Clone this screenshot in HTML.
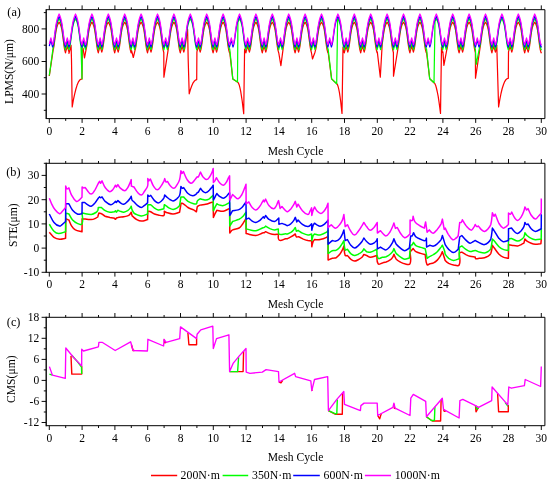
<!DOCTYPE html>
<html><head><meta charset="utf-8"><title>Mesh stiffness, STE and CMS over mesh cycles</title>
<style>
html,body{margin:0;padding:0;background:#fff;}
body{width:550px;height:483px;overflow:hidden;}
svg{display:block;font-family:"Liberation Serif","Times New Roman",serif;}
.t{font-size:11.5px;fill:#000;}
.xl{font-size:11.6px;fill:#000;}
.yl{font-size:11.6px;fill:#000;}
.pl{font-size:12.3px;fill:#000;}
.lg{font-size:11.8px;fill:#000;}
</style></head><body>
<svg width="550" height="483" viewBox="0 0 550 483">
<rect width="550" height="483" fill="#fff"/>
<g id="panel-a">
<clipPath id="ca"><rect x="46.2" y="9.7" width="498.7" height="108.9"/></clipPath><g clip-path="url(#ca)">
<polyline points="49.3,76.0 53.3,49.1 53.4,49.1 54.0,45.8 54.8,39.7 55.5,34.4 56.3,29.6 57.0,26.7 57.8,24.4 58.5,23.1 59.1,22.2 59.8,23.2 60.4,24.5 61.2,26.8 61.9,29.8 62.6,34.7 63.3,40.1 64.1,46.3 64.7,49.8 65.5,52.8 65.7,51.9 67.3,46.2 69.0,52.2 69.0,53.4 71.1,45.4 71.5,60.0 72.2,107.0 72.2,107.0 73.4,99.9 74.7,93.9 75.9,89.0 77.1,85.1 78.3,82.2 79.5,80.3 80.8,79.3 82.0,79.0 82.2,51.9 82.1,51.9 83.1,48.3 83.1,48.3 84.5,57.8 86.5,47.4 86.5,47.4 86.8,45.8 87.6,39.7 88.3,34.4 89.1,29.6 89.8,26.7 90.6,24.4 91.3,23.1 91.9,22.2 92.6,23.2 93.2,24.5 94.0,26.8 94.7,29.8 95.4,34.7 96.1,40.1 96.9,46.3 97.5,49.8 98.3,52.8 98.5,51.9 100.1,46.2 101.8,52.2 102.6,49.2 103.2,45.8 104.0,39.7 104.7,34.4 105.5,29.6 106.2,26.7 107.0,24.4 107.7,23.1 108.3,22.2 109.0,23.2 109.6,24.5 110.4,26.8 111.1,29.8 111.8,34.7 112.5,40.1 113.3,46.3 113.9,49.8 114.7,52.8 114.9,51.9 116.5,46.2 118.2,52.2 119.0,49.2 119.6,45.8 120.4,39.7 121.1,34.4 121.9,29.6 122.6,26.7 123.4,24.4 124.1,23.1 124.7,22.2 125.4,23.2 126.0,24.5 126.8,26.8 127.5,29.8 128.2,34.7 128.9,40.1 129.7,46.3 130.3,49.8 131.1,52.8 131.3,51.9 131.6,50.7 131.6,50.7 133.3,57.5 135.2,49.7 135.2,49.7 135.4,49.2 136.0,45.8 136.8,39.7 137.5,34.4 138.3,29.6 139.0,26.7 139.8,24.4 140.5,23.1 141.1,22.2 141.8,23.2 142.4,24.5 143.2,26.8 143.9,29.8 144.6,34.7 145.3,40.1 146.1,46.3 146.7,49.8 147.5,52.8 147.7,51.9 149.3,46.2 151.0,52.2 151.8,49.2 152.4,45.8 153.2,39.7 153.9,34.4 154.7,29.6 155.4,26.7 156.2,24.4 156.9,23.1 157.5,22.2 158.2,23.2 158.8,24.5 159.6,26.8 160.3,29.8 161.0,34.7 161.7,40.1 162.5,46.3 163.1,49.8 163.8,52.5 163.8,52.5 163.9,77.2 168.4,48.2 168.4,48.2 168.8,45.8 169.6,39.7 170.3,34.4 171.1,29.6 171.8,26.7 172.6,24.4 173.3,23.1 173.9,22.2 174.6,23.2 175.2,24.5 176.0,26.8 176.7,29.8 177.4,34.7 178.1,40.1 178.9,46.3 179.5,49.8 180.3,52.8 180.5,51.9 182.1,46.2 183.8,52.2 184.6,49.2 185.2,45.8 186.0,39.7 186.7,34.4 187.5,29.6 187.6,29.5 187.6,29.5 188.2,60.0 189.2,93.8 189.2,93.8 190.4,89.5 191.7,86.0 192.9,83.2 194.2,81.3 195.4,80.1 196.7,79.7 196.9,51.9 196.9,51.9 198.5,46.2 200.2,52.2 201.0,49.2 201.6,45.8 202.4,39.7 203.1,34.4 203.9,29.6 204.6,26.7 205.4,24.4 206.1,23.1 206.7,22.2 207.4,23.2 208.0,24.5 208.8,26.8 209.5,29.8 210.2,34.7 210.9,40.1 211.7,46.3 212.3,49.8 213.1,52.8 213.3,51.9 214.9,46.2 216.6,52.2 217.4,49.2 218.0,45.8 218.8,39.7 219.5,34.4 220.3,29.6 221.0,26.7 221.8,24.4 222.5,23.1 223.1,22.2 223.8,23.2 224.4,24.5 225.2,26.8 225.9,29.8 226.6,34.7 227.3,40.1 228.1,46.3 228.7,49.8 229.5,52.8 229.7,51.9 229.7,51.9 232.8,78.9 237.7,82.3 237.7,82.3 238.4,83.0 239.2,84.9 239.9,87.7 240.7,91.3 241.4,95.8 242.2,101.0 242.9,107.0 243.7,113.7 244.6,49.0 245.0,49.0 245.1,49.8 245.9,52.8 246.1,51.9 247.7,46.2 249.4,52.2 250.2,49.2 250.8,45.8 251.6,39.7 252.3,34.4 253.1,29.6 253.8,26.7 254.6,24.4 255.3,23.1 255.9,22.2 256.6,23.2 257.2,24.5 258.0,26.8 258.7,29.8 259.4,34.7 260.1,40.1 260.9,46.3 261.5,49.8 262.3,52.8 262.5,51.9 264.1,46.2 265.8,52.2 266.6,49.2 267.2,45.8 268.0,39.7 268.7,34.4 269.5,29.6 270.2,26.7 271.0,24.4 271.7,23.1 272.3,22.2 273.0,23.2 273.6,24.5 274.4,26.8 275.1,29.8 275.8,34.7 276.5,40.1 277.3,46.3 277.9,49.8 278.7,52.8 278.7,52.5 278.7,52.5 280.9,65.6 283.2,48.2 283.2,48.2 283.6,45.8 284.4,39.7 285.1,34.4 285.9,29.6 286.6,26.7 287.4,24.4 288.1,23.1 288.7,22.2 289.4,23.2 290.0,24.5 290.8,26.8 291.5,29.8 292.2,34.7 292.9,40.1 293.7,46.3 294.3,49.8 295.1,52.8 295.3,51.9 296.9,46.2 298.6,52.2 299.4,49.2 300.0,45.8 300.8,39.7 301.5,34.4 302.3,29.6 303.0,26.7 303.8,24.4 304.5,23.1 305.1,22.2 305.8,23.2 306.4,24.5 307.2,26.8 307.9,29.8 308.6,34.7 309.3,40.1 310.1,46.3 310.7,49.8 311.4,52.5 311.4,52.5 312.5,59.0 315.0,52.2 315.0,52.2 315.8,49.2 316.4,45.8 317.2,39.7 317.9,34.4 318.7,29.6 319.4,26.7 320.2,24.4 320.9,23.1 321.5,22.2 322.2,23.2 322.8,24.5 323.6,26.8 324.3,29.8 325.0,34.7 325.7,40.1 326.5,46.3 327.1,49.8 327.9,52.8 328.1,51.9 328.1,51.9 331.6,78.9 336.7,83.8 336.7,83.8 337.4,84.5 338.0,86.2 338.7,88.9 339.4,92.3 340.0,96.5 340.7,101.5 341.3,107.2 342.0,113.5 343.0,47.1 343.0,47.1 343.5,49.8 344.3,52.8 344.5,51.9 346.1,46.2 347.8,52.2 348.6,49.2 349.2,45.8 350.0,39.7 350.7,34.4 351.5,29.6 352.2,26.7 353.0,24.4 353.7,23.1 354.3,22.2 355.0,23.2 355.6,24.5 356.4,26.8 357.1,29.8 357.8,34.7 358.5,40.1 359.3,46.3 359.9,49.8 360.7,52.8 360.9,51.9 362.5,46.2 364.2,52.2 365.0,49.2 365.6,45.8 366.4,39.7 367.1,34.4 367.9,29.6 368.6,26.7 369.4,24.4 370.1,23.1 370.7,22.2 371.4,23.2 372.0,24.5 372.8,26.8 373.5,29.8 374.2,34.7 374.9,40.1 375.7,46.3 376.3,49.8 377.1,52.8 377.3,51.9 377.3,51.9 380.3,77.2 382.2,44.3 382.2,44.3 382.8,39.7 383.5,34.4 384.3,29.6 385.0,26.7 385.8,24.4 386.5,23.1 387.1,22.2 387.8,23.2 388.4,24.5 389.2,26.8 389.9,29.8 390.6,34.7 391.3,40.1 392.1,46.3 392.7,49.8 393.4,52.5 393.4,52.5 393.5,76.2 398.3,46.5 398.3,46.5 398.4,45.8 399.2,39.7 399.9,34.4 400.7,29.6 401.4,26.7 402.2,24.4 402.9,23.1 403.5,22.2 404.2,23.2 404.8,24.5 405.6,26.8 406.3,29.8 407.0,34.7 407.7,40.1 408.5,46.3 409.1,49.8 409.9,52.8 410.1,51.9 411.7,46.2 413.4,52.2 414.2,49.2 414.8,45.8 415.6,39.7 416.3,34.4 417.1,29.6 417.8,26.7 418.6,24.4 419.3,23.1 419.9,22.2 420.6,23.2 421.2,24.5 422.0,26.8 422.7,29.8 423.4,34.7 424.1,40.1 424.9,46.3 425.5,49.8 426.3,52.8 426.5,51.9 426.5,51.9 429.7,78.7 434.0,82.7 434.0,82.7 434.8,83.4 435.6,85.2 436.4,88.0 437.2,91.5 438.1,95.9 438.9,101.1 439.7,106.9 440.5,113.5 441.5,47.1 441.4,47.1 441.9,49.8 442.7,52.8 442.9,51.9 442.9,51.9 443.9,65.4 446.8,49.7 446.8,49.7 447.0,49.2 447.6,45.8 448.4,39.7 449.1,34.4 449.9,29.6 450.6,26.7 451.4,24.4 452.1,23.1 452.7,22.2 453.4,23.2 454.0,24.5 454.8,26.8 455.5,29.8 456.2,34.7 456.9,40.1 457.7,46.3 458.3,49.8 459.1,52.8 459.3,51.9 460.9,46.2 462.6,52.2 463.4,49.2 464.0,45.8 464.8,39.7 465.5,34.4 466.3,29.6 467.0,26.7 467.8,24.4 468.5,23.1 469.1,22.2 469.8,23.2 470.4,24.5 471.2,26.8 471.9,29.8 472.6,34.7 473.3,40.1 474.1,46.3 474.7,49.8 475.4,52.5 475.4,52.5 475.5,78.2 480.0,48.2 480.0,48.2 480.4,45.8 481.2,39.7 481.9,34.4 482.7,29.6 483.4,26.7 484.2,24.4 484.9,23.1 485.5,22.2 486.2,23.2 486.8,24.5 487.6,26.8 488.3,29.8 489.0,34.7 489.7,40.1 490.5,46.3 491.1,49.8 491.9,52.8 492.1,51.9 493.7,46.2 495.4,52.2 496.2,49.2 496.8,45.8 496.9,45.6 496.8,45.6 497.2,60.0 498.6,106.9 498.6,106.9 499.8,99.6 501.0,93.5 502.2,88.5 503.5,84.5 504.7,81.6 505.9,79.7 507.1,78.6 508.3,78.3 508.5,51.9 508.5,51.9 510.1,46.2 511.8,52.2 512.6,49.2 513.2,45.8 514.0,39.7 514.7,34.4 515.5,29.6 516.2,26.7 517.0,24.4 517.7,23.1 518.3,22.2 519.0,23.2 519.6,24.5 520.4,26.8 521.1,29.8 521.8,34.7 522.5,40.1 523.3,46.3 523.9,49.8 524.7,52.8 524.9,51.9 526.5,46.2 528.2,52.2 529.0,49.2 529.6,45.8 530.4,39.7 531.1,34.4 531.9,29.6 532.6,26.7 533.4,24.4 534.1,23.1 534.7,22.2 535.4,23.2 536.0,24.5 536.8,26.8 537.5,29.8 538.2,34.7 538.9,40.1 539.7,46.3 540.3,49.8 541.1,52.8 541.3,51.9" fill="none" stroke="#ff0000" stroke-width="1.22" stroke-linejoin="round" />
<polyline points="49.3,75.5 53.2,47.2 53.2,47.2 53.4,46.8 54.0,43.4 54.8,37.4 55.5,32.0 56.3,27.1 57.0,24.0 57.8,21.5 58.5,20.0 59.1,18.8 59.8,20.0 60.4,21.5 61.2,24.0 61.9,27.1 62.6,32.1 63.3,37.5 64.1,43.6 64.7,47.0 65.5,49.8 65.7,48.9 67.3,43.0 69.0,49.6 69.8,46.8 70.4,43.4 71.2,37.4 71.9,32.0 72.7,27.1 73.4,24.0 74.2,21.5 74.9,20.0 75.5,18.8 76.2,20.0 76.8,21.5 77.6,24.0 78.3,27.1 79.0,32.1 79.7,37.5 80.5,43.6 81.0,46.2 81.0,46.2 82.0,78.9 82.2,48.9 82.1,48.9 83.7,43.0 85.4,49.6 86.2,46.8 86.8,43.4 87.6,37.4 88.3,32.0 89.1,27.1 89.8,24.0 90.6,21.5 91.3,20.0 91.9,18.8 92.6,20.0 93.2,21.5 94.0,24.0 94.7,27.1 95.4,32.1 96.1,37.5 96.9,43.6 97.5,47.0 98.3,49.8 98.5,48.9 100.1,43.0 101.8,49.6 102.6,46.8 103.2,43.4 104.0,37.4 104.7,32.0 105.5,27.1 106.2,24.0 107.0,21.5 107.7,20.0 108.3,18.8 109.0,20.0 109.6,21.5 110.4,24.0 111.1,27.1 111.8,32.1 112.5,37.5 113.3,43.6 113.9,47.0 114.7,49.8 114.9,48.9 116.5,43.0 118.2,49.6 119.0,46.8 119.6,43.4 120.4,37.4 121.1,32.0 121.9,27.1 122.6,24.0 123.4,21.5 124.1,20.0 124.7,18.8 125.4,20.0 126.0,21.5 126.8,24.0 127.5,27.1 128.2,32.1 128.9,37.5 129.7,43.6 130.3,47.0 131.1,49.8 131.3,48.9 132.9,43.0 134.6,49.6 135.4,46.8 136.0,43.4 136.8,37.4 137.5,32.0 138.3,27.1 139.0,24.0 139.8,21.5 140.5,20.0 141.1,18.8 141.8,20.0 142.4,21.5 143.2,24.0 143.9,27.1 144.6,32.1 145.3,37.5 146.1,43.6 146.7,47.0 147.5,49.8 147.7,48.9 149.3,43.0 151.0,49.6 151.8,46.8 152.4,43.4 153.2,37.4 153.9,32.0 154.7,27.1 155.4,24.0 156.2,21.5 156.9,20.0 157.5,18.8 158.2,20.0 158.8,21.5 159.6,24.0 160.3,27.1 161.0,32.1 161.7,37.5 162.5,43.6 163.1,47.0 163.9,49.8 164.1,48.9 165.7,43.0 167.4,49.6 168.2,46.8 168.8,43.4 169.6,37.4 170.3,32.0 171.1,27.1 171.8,24.0 172.6,21.5 173.3,20.0 173.9,18.8 174.6,20.0 175.2,21.5 176.0,24.0 176.7,27.1 177.4,32.1 178.1,37.5 178.9,43.6 179.5,47.0 180.3,49.8 180.5,48.9 182.1,43.0 183.8,49.6 184.6,46.8 185.2,43.4 186.0,37.4 186.7,32.0 187.5,27.1 188.2,24.0 189.0,21.5 189.7,20.0 190.3,18.8 191.0,20.0 191.6,21.5 192.4,24.0 193.1,27.1 193.8,32.1 194.5,37.5 195.3,43.6 195.9,47.0 196.7,49.8 196.9,48.9 198.5,43.0 200.2,49.6 201.0,46.8 201.6,43.4 202.4,37.4 203.1,32.0 203.9,27.1 204.6,24.0 205.4,21.5 206.1,20.0 206.7,18.8 207.4,20.0 208.0,21.5 208.8,24.0 209.5,27.1 210.2,32.1 210.9,37.5 211.7,43.6 212.3,47.0 213.1,49.8 213.3,48.9 214.9,43.0 216.6,49.6 217.4,46.8 218.0,43.4 218.8,37.4 219.5,32.0 220.3,27.1 221.0,24.0 221.8,21.5 222.5,20.0 223.1,18.8 223.8,20.0 224.4,21.5 225.2,24.0 225.9,27.1 226.6,32.1 227.3,37.5 228.1,43.6 228.7,47.0 229.5,49.8 229.7,48.9 229.7,48.9 232.8,78.9 237.5,82.0 237.9,22.5 237.9,22.5 238.2,21.5 238.9,20.0 239.5,18.8 240.2,20.0 240.8,21.5 241.6,24.0 242.3,27.1 243.0,32.1 243.7,37.5 244.5,43.6 245.1,47.0 245.9,49.8 246.1,48.9 247.7,43.0 249.4,49.6 250.2,46.8 250.8,43.4 251.6,37.4 252.3,32.0 253.1,27.1 253.8,24.0 254.6,21.5 255.3,20.0 255.9,18.8 256.6,20.0 257.2,21.5 258.0,24.0 258.7,27.1 259.4,32.1 260.1,37.5 260.9,43.6 261.5,47.0 262.3,49.8 262.5,48.9 264.1,43.0 265.8,49.6 266.6,46.8 267.2,43.4 268.0,37.4 268.7,32.0 269.5,27.1 270.2,24.0 271.0,21.5 271.7,20.0 272.3,18.8 273.0,20.0 273.6,21.5 274.4,24.0 275.1,27.1 275.8,32.1 276.5,37.5 277.3,43.6 277.9,47.0 278.7,49.8 278.9,48.9 280.5,43.0 282.2,49.6 283.0,46.8 283.6,43.4 284.4,37.4 285.1,32.0 285.9,27.1 286.6,24.0 287.4,21.5 288.1,20.0 288.7,18.8 289.4,20.0 290.0,21.5 290.8,24.0 291.5,27.1 292.2,32.1 292.9,37.5 293.7,43.6 294.3,47.0 295.1,49.8 295.3,48.9 296.9,43.0 298.6,49.6 299.4,46.8 300.0,43.4 300.8,37.4 301.5,32.0 302.3,27.1 303.0,24.0 303.8,21.5 304.5,20.0 305.1,18.8 305.8,20.0 306.4,21.5 307.2,24.0 307.9,27.1 308.6,32.1 309.3,37.5 310.1,43.6 310.7,47.0 311.5,49.8 311.7,48.9 313.3,43.0 315.0,49.6 315.8,46.8 316.4,43.4 317.2,37.4 317.9,32.0 318.7,27.1 319.4,24.0 320.2,21.5 320.9,20.0 321.5,18.8 322.2,20.0 322.8,21.5 323.6,24.0 324.3,27.1 325.0,32.1 325.7,37.5 326.5,43.6 327.1,47.0 327.9,49.8 328.1,48.9 328.1,48.9 331.6,78.9 336.7,83.8 337.6,19.4 337.6,19.4 337.9,18.8 338.6,20.0 339.2,21.5 340.0,24.0 340.7,27.1 341.4,32.1 342.1,37.5 342.9,43.6 343.5,47.0 344.3,49.8 344.5,48.9 346.1,43.0 347.8,49.6 348.6,46.8 349.2,43.4 350.0,37.4 350.7,32.0 351.5,27.1 352.2,24.0 353.0,21.5 353.7,20.0 354.3,18.8 355.0,20.0 355.6,21.5 356.4,24.0 357.1,27.1 357.8,32.1 358.5,37.5 359.3,43.6 359.9,47.0 360.7,49.8 360.9,48.9 362.5,43.0 364.2,49.6 365.0,46.8 365.6,43.4 366.4,37.4 367.1,32.0 367.9,27.1 368.6,24.0 369.4,21.5 370.1,20.0 370.7,18.8 371.4,20.0 372.0,21.5 372.8,24.0 373.5,27.1 374.2,32.1 374.9,37.5 375.7,43.6 376.3,47.0 377.1,49.8 377.3,48.9 378.9,43.0 380.6,49.6 381.4,46.8 382.0,43.4 382.8,37.4 383.5,32.0 384.3,27.1 385.0,24.0 385.8,21.5 386.5,20.0 387.1,18.8 387.8,20.0 388.4,21.5 389.2,24.0 389.9,27.1 390.6,32.1 391.3,37.5 392.1,43.6 392.7,47.0 393.5,49.8 393.7,48.9 395.3,43.0 397.0,49.6 397.8,46.8 398.4,43.4 399.2,37.4 399.9,32.0 400.7,27.1 401.4,24.0 402.2,21.5 402.9,20.0 403.5,18.8 404.2,20.0 404.8,21.5 405.6,24.0 406.3,27.1 407.0,32.1 407.7,37.5 408.5,43.6 409.1,47.0 409.9,49.8 410.1,48.9 411.7,43.0 413.4,49.6 414.2,46.8 414.8,43.4 415.6,37.4 416.3,32.0 417.1,27.1 417.8,24.0 418.6,21.5 419.3,20.0 419.9,18.8 420.6,20.0 421.2,21.5 422.0,24.0 422.7,27.1 423.4,32.1 424.1,37.5 424.9,43.6 425.5,47.0 426.3,49.8 426.5,48.9 426.5,48.9 429.7,78.7 434.0,82.7 435.0,21.5 435.0,21.5 435.7,20.0 436.3,18.8 437.0,20.0 437.6,21.5 438.4,24.0 439.1,27.1 439.8,32.1 440.5,37.5 441.3,43.6 441.9,47.0 442.7,49.8 442.9,48.9 444.5,43.0 446.2,49.6 447.0,46.8 447.6,43.4 448.4,37.4 449.1,32.0 449.9,27.1 450.6,24.0 451.4,21.5 452.1,20.0 452.7,18.8 453.4,20.0 454.0,21.5 454.8,24.0 455.5,27.1 456.2,32.1 456.9,37.5 457.7,43.6 458.3,47.0 459.1,49.8 459.3,48.9 460.9,43.0 462.6,49.6 463.4,46.8 464.0,43.4 464.8,37.4 465.5,32.0 466.3,27.1 467.0,24.0 467.8,21.5 468.5,20.0 469.1,18.8 469.8,20.0 470.4,21.5 471.2,24.0 471.9,27.1 472.6,32.1 473.3,37.5 474.1,43.6 474.7,47.0 475.4,49.5 475.4,49.5 476.2,64.4 479.6,47.2 479.6,47.2 479.8,46.8 480.4,43.4 481.2,37.4 481.9,32.0 482.7,27.1 483.4,24.0 484.2,21.5 484.9,20.0 485.5,18.8 486.2,20.0 486.8,21.5 487.6,24.0 488.3,27.1 489.0,32.1 489.7,37.5 490.5,43.6 491.1,47.0 491.9,49.8 492.1,48.9 493.7,43.0 495.4,49.6 496.2,46.8 496.8,43.4 497.6,37.4 498.3,32.0 499.1,27.1 499.8,24.0 500.6,21.5 501.3,20.0 501.9,18.8 502.6,20.0 503.2,21.5 504.0,24.0 504.7,27.1 505.4,32.1 506.1,37.5 506.9,43.6 507.5,47.0 508.3,49.8 508.5,48.9 510.1,43.0 511.8,49.6 512.6,46.8 513.2,43.4 514.0,37.4 514.7,32.0 515.5,27.1 516.2,24.0 517.0,21.5 517.7,20.0 518.3,18.8 519.0,20.0 519.6,21.5 520.4,24.0 521.1,27.1 521.8,32.1 522.5,37.5 523.3,43.6 523.9,47.0 524.7,49.8 524.9,48.9 526.5,43.0 528.2,49.6 529.0,46.8 529.6,43.4 530.4,37.4 531.1,32.0 531.9,27.1 532.6,24.0 533.4,21.5 534.1,20.0 534.7,18.8 535.4,20.0 536.0,21.5 536.8,24.0 537.5,27.1 538.2,32.1 538.9,37.5 539.7,43.6 540.3,47.0 541.1,49.8 541.3,48.9" fill="none" stroke="#00ff00" stroke-width="1.22" stroke-linejoin="round" />
<polyline points="49.3,46.1 50.9,40.0 52.6,47.0 53.4,44.4 54.0,41.2 54.8,35.3 55.5,30.1 56.3,25.2 57.0,22.1 57.8,19.5 58.5,17.9 59.1,16.6 59.8,17.9 60.4,19.5 61.2,22.1 61.9,25.3 62.6,30.1 63.3,35.4 64.1,41.3 64.7,44.5 65.5,47.1 65.7,46.1 67.3,40.0 69.0,47.0 69.8,44.4 70.4,41.2 71.2,35.3 71.9,30.1 72.7,25.2 73.4,22.1 74.2,19.5 74.9,17.9 75.5,16.6 76.2,17.9 76.8,19.5 77.6,22.1 78.3,25.3 79.0,30.1 79.7,35.4 80.5,41.3 81.1,44.5 81.9,47.1 82.1,46.1 83.7,40.0 85.4,47.0 86.2,44.4 86.8,41.2 87.6,35.3 88.3,30.1 89.1,25.2 89.8,22.1 90.6,19.5 91.3,17.9 91.9,16.6 92.6,17.9 93.2,19.5 94.0,22.1 94.7,25.3 95.4,30.1 96.1,35.4 96.9,41.3 97.5,44.5 98.3,47.1 98.5,46.1 100.1,40.0 101.8,47.0 102.6,44.4 103.2,41.2 104.0,35.3 104.7,30.1 105.5,25.2 106.2,22.1 107.0,19.5 107.7,17.9 108.3,16.6 109.0,17.9 109.6,19.5 110.4,22.1 111.1,25.3 111.8,30.1 112.5,35.4 113.3,41.3 113.9,44.5 114.7,47.1 114.9,46.1 116.5,40.0 118.2,47.0 119.0,44.4 119.6,41.2 120.4,35.3 121.1,30.1 121.9,25.2 122.6,22.1 123.4,19.5 124.1,17.9 124.7,16.6 125.4,17.9 126.0,19.5 126.8,22.1 127.5,25.3 128.2,30.1 128.9,35.4 129.7,41.3 130.3,44.5 131.1,47.1 131.3,46.1 132.9,40.0 134.6,47.0 135.4,44.4 136.0,41.2 136.8,35.3 137.5,30.1 138.3,25.2 139.0,22.1 139.8,19.5 140.5,17.9 141.1,16.6 141.8,17.9 142.4,19.5 143.2,22.1 143.9,25.3 144.6,30.1 145.3,35.4 146.1,41.3 146.7,44.5 147.5,47.1 147.7,46.1 149.3,40.0 151.0,47.0 151.8,44.4 152.4,41.2 153.2,35.3 153.9,30.1 154.7,25.2 155.4,22.1 156.2,19.5 156.9,17.9 157.5,16.6 158.2,17.9 158.8,19.5 159.6,22.1 160.3,25.3 161.0,30.1 161.7,35.4 162.5,41.3 163.1,44.5 163.9,47.1 164.1,46.1 165.7,40.0 167.4,47.0 168.2,44.4 168.8,41.2 169.6,35.3 170.3,30.1 171.1,25.2 171.8,22.1 172.6,19.5 173.3,17.9 173.9,16.6 174.6,17.9 175.2,19.5 176.0,22.1 176.7,25.3 177.4,30.1 178.1,35.4 178.9,41.3 179.5,44.5 180.3,47.1 180.5,46.1 182.1,40.0 183.8,47.0 184.6,44.4 185.2,41.2 186.0,35.3 186.7,30.1 187.5,25.2 188.2,22.1 189.0,19.5 189.7,17.9 190.3,16.6 191.0,17.9 191.6,19.5 192.4,22.1 193.1,25.3 193.8,30.1 194.5,35.4 195.3,41.3 195.9,44.5 196.7,47.1 196.9,46.1 198.5,40.0 200.2,47.0 201.0,44.4 201.6,41.2 202.4,35.3 203.1,30.1 203.9,25.2 204.6,22.1 205.4,19.5 206.1,17.9 206.7,16.6 207.4,17.9 208.0,19.5 208.8,22.1 209.5,25.3 210.2,30.1 210.9,35.4 211.7,41.3 212.3,44.5 213.1,47.1 213.3,46.1 214.9,40.0 216.6,47.0 217.4,44.4 218.0,41.2 218.8,35.3 219.5,30.1 220.3,25.2 221.0,22.1 221.8,19.5 222.5,17.9 223.1,16.6 223.8,17.9 224.4,19.5 225.2,22.1 225.9,25.3 226.6,30.1 227.3,35.4 228.1,41.3 228.7,44.5 229.5,47.1 229.7,46.1 231.3,40.0 233.0,47.0 233.8,44.4 234.4,41.2 235.2,35.3 235.9,30.1 236.7,25.2 237.4,22.1 238.2,19.5 238.9,17.9 239.5,16.6 240.2,17.9 240.8,19.5 241.6,22.1 242.3,25.3 243.0,30.1 243.7,35.4 244.5,41.3 245.1,44.5 245.9,47.1 246.1,46.1 247.7,40.0 249.4,47.0 250.2,44.4 250.8,41.2 251.6,35.3 252.3,30.1 253.1,25.2 253.8,22.1 254.6,19.5 255.3,17.9 255.9,16.6 256.6,17.9 257.2,19.5 258.0,22.1 258.7,25.3 259.4,30.1 260.1,35.4 260.9,41.3 261.5,44.5 262.3,47.1 262.5,46.1 264.1,40.0 265.8,47.0 266.6,44.4 267.2,41.2 268.0,35.3 268.7,30.1 269.5,25.2 270.2,22.1 271.0,19.5 271.7,17.9 272.3,16.6 273.0,17.9 273.6,19.5 274.4,22.1 275.1,25.3 275.8,30.1 276.5,35.4 277.3,41.3 277.9,44.5 278.7,47.1 278.9,46.1 280.5,40.0 282.2,47.0 283.0,44.4 283.6,41.2 284.4,35.3 285.1,30.1 285.9,25.2 286.6,22.1 287.4,19.5 288.1,17.9 288.7,16.6 289.4,17.9 290.0,19.5 290.8,22.1 291.5,25.3 292.2,30.1 292.9,35.4 293.7,41.3 294.3,44.5 295.1,47.1 295.3,46.1 296.9,40.0 298.6,47.0 299.4,44.4 300.0,41.2 300.8,35.3 301.5,30.1 302.3,25.2 303.0,22.1 303.8,19.5 304.5,17.9 305.1,16.6 305.8,17.9 306.4,19.5 307.2,22.1 307.9,25.3 308.6,30.1 309.3,35.4 310.1,41.3 310.7,44.5 311.5,47.1 311.7,46.1 313.3,40.0 315.0,47.0 315.8,44.4 316.4,41.2 317.2,35.3 317.9,30.1 318.7,25.2 319.4,22.1 320.2,19.5 320.9,17.9 321.5,16.6 322.2,17.9 322.8,19.5 323.6,22.1 324.3,25.3 325.0,30.1 325.7,35.4 326.5,41.3 327.1,44.5 327.9,47.1 328.1,46.1 329.7,40.0 331.4,47.0 332.2,44.4 332.8,41.2 333.6,35.3 334.3,30.1 335.1,25.2 335.8,22.1 336.6,19.5 337.3,17.9 337.9,16.6 338.6,17.9 339.2,19.5 340.0,22.1 340.7,25.3 341.4,30.1 342.1,35.4 342.9,41.3 343.5,44.5 344.3,47.1 344.5,46.1 346.1,40.0 347.8,47.0 348.6,44.4 349.2,41.2 350.0,35.3 350.7,30.1 351.5,25.2 352.2,22.1 353.0,19.5 353.7,17.9 354.3,16.6 355.0,17.9 355.6,19.5 356.4,22.1 357.1,25.3 357.8,30.1 358.5,35.4 359.3,41.3 359.9,44.5 360.7,47.1 360.9,46.1 362.5,40.0 364.2,47.0 365.0,44.4 365.6,41.2 366.4,35.3 367.1,30.1 367.9,25.2 368.6,22.1 369.4,19.5 370.1,17.9 370.7,16.6 371.4,17.9 372.0,19.5 372.8,22.1 373.5,25.3 374.2,30.1 374.9,35.4 375.7,41.3 376.3,44.5 377.1,47.1 377.3,46.1 378.9,40.0 380.6,47.0 381.4,44.4 382.0,41.2 382.8,35.3 383.5,30.1 384.3,25.2 385.0,22.1 385.8,19.5 386.5,17.9 387.1,16.6 387.8,17.9 388.4,19.5 389.2,22.1 389.9,25.3 390.6,30.1 391.3,35.4 392.1,41.3 392.7,44.5 393.5,47.1 393.7,46.1 395.3,40.0 397.0,47.0 397.8,44.4 398.4,41.2 399.2,35.3 399.9,30.1 400.7,25.2 401.4,22.1 402.2,19.5 402.9,17.9 403.5,16.6 404.2,17.9 404.8,19.5 405.6,22.1 406.3,25.3 407.0,30.1 407.7,35.4 408.5,41.3 409.1,44.5 409.9,47.1 410.1,46.1 411.7,40.0 413.4,47.0 414.2,44.4 414.8,41.2 415.6,35.3 416.3,30.1 417.1,25.2 417.8,22.1 418.6,19.5 419.3,17.9 419.9,16.6 420.6,17.9 421.2,19.5 422.0,22.1 422.7,25.3 423.4,30.1 424.1,35.4 424.9,41.3 425.5,44.5 426.3,47.1 426.5,46.1 428.1,40.0 429.8,47.0 430.6,44.4 431.2,41.2 432.0,35.3 432.7,30.1 433.5,25.2 434.2,22.1 435.0,19.5 435.7,17.9 436.3,16.6 437.0,17.9 437.6,19.5 438.4,22.1 439.1,25.3 439.8,30.1 440.5,35.4 441.3,41.3 441.9,44.5 442.7,47.1 442.9,46.1 444.5,40.0 446.2,47.0 447.0,44.4 447.6,41.2 448.4,35.3 449.1,30.1 449.9,25.2 450.6,22.1 451.4,19.5 452.1,17.9 452.7,16.6 453.4,17.9 454.0,19.5 454.8,22.1 455.5,25.3 456.2,30.1 456.9,35.4 457.7,41.3 458.3,44.5 459.1,47.1 459.3,46.1 460.9,40.0 462.6,47.0 463.4,44.4 464.0,41.2 464.8,35.3 465.5,30.1 466.3,25.2 467.0,22.1 467.8,19.5 468.5,17.9 469.1,16.6 469.8,17.9 470.4,19.5 471.2,22.1 471.9,25.3 472.6,30.1 473.3,35.4 474.1,41.3 474.7,44.5 475.5,47.1 475.7,46.1 477.3,40.0 479.0,47.0 479.8,44.4 480.4,41.2 481.2,35.3 481.9,30.1 482.7,25.2 483.4,22.1 484.2,19.5 484.9,17.9 485.5,16.6 486.2,17.9 486.8,19.5 487.6,22.1 488.3,25.3 489.0,30.1 489.7,35.4 490.5,41.3 491.1,44.5 491.9,47.1 492.1,46.1 493.7,40.0 495.4,47.0 496.2,44.4 496.8,41.2 497.6,35.3 498.3,30.1 499.1,25.2 499.8,22.1 500.6,19.5 501.3,17.9 501.9,16.6 502.6,17.9 503.2,19.5 504.0,22.1 504.7,25.3 505.4,30.1 506.1,35.4 506.9,41.3 507.5,44.5 508.3,47.1 508.5,46.1 510.1,40.0 511.8,47.0 512.6,44.4 513.2,41.2 514.0,35.3 514.7,30.1 515.5,25.2 516.2,22.1 517.0,19.5 517.7,17.9 518.3,16.6 519.0,17.9 519.6,19.5 520.4,22.1 521.1,25.3 521.8,30.1 522.5,35.4 523.3,41.3 523.9,44.5 524.7,47.1 524.9,46.1 526.5,40.0 528.2,47.0 529.0,44.4 529.6,41.2 530.4,35.3 531.1,30.1 531.9,25.2 532.6,22.1 533.4,19.5 534.1,17.9 534.7,16.6 535.4,17.9 536.0,19.5 536.8,22.1 537.5,25.3 538.2,30.1 538.9,35.4 539.7,41.3 540.3,44.5 541.1,47.1 541.3,46.1" fill="none" stroke="#0000ff" stroke-width="1.22" stroke-linejoin="round" />
<polyline points="49.3,43.8 50.9,37.8 52.6,44.7 53.4,42.2 54.0,39.2 54.8,33.3 55.5,28.1 56.3,23.2 57.0,20.0 57.8,17.2 58.5,15.5 59.1,14.0 59.8,15.5 60.4,17.2 61.2,20.0 61.9,23.2 62.6,28.2 63.3,33.4 64.1,39.3 64.7,42.3 65.5,44.8 65.7,43.8 67.3,37.8 69.0,44.7 69.8,42.2 70.4,39.2 71.2,33.3 71.9,28.1 72.7,23.2 73.4,20.0 74.2,17.2 74.9,15.5 75.5,14.0 76.2,15.5 76.8,17.2 77.6,20.0 78.3,23.2 79.0,28.2 79.7,33.4 80.5,39.3 81.1,42.3 81.9,44.8 82.1,43.8 83.7,37.8 85.4,44.7 86.2,42.2 86.8,39.2 87.6,33.3 88.3,28.1 89.1,23.2 89.8,20.0 90.6,17.2 91.3,15.5 91.9,14.0 92.6,15.5 93.2,17.2 94.0,20.0 94.7,23.2 95.4,28.2 96.1,33.4 96.9,39.3 97.5,42.3 98.3,44.8 98.5,43.8 100.1,37.8 101.8,44.7 102.6,42.2 103.2,39.2 104.0,33.3 104.7,28.1 105.5,23.2 106.2,20.0 107.0,17.2 107.7,15.5 108.3,14.0 109.0,15.5 109.6,17.2 110.4,20.0 111.1,23.2 111.8,28.2 112.5,33.4 113.3,39.3 113.9,42.3 114.7,44.8 114.9,43.8 116.5,37.8 118.2,44.7 119.0,42.2 119.6,39.2 120.4,33.3 121.1,28.1 121.9,23.2 122.6,20.0 123.4,17.2 124.1,15.5 124.7,14.0 125.4,15.5 126.0,17.2 126.8,20.0 127.5,23.2 128.2,28.2 128.9,33.4 129.7,39.3 130.3,42.3 131.1,44.8 131.3,43.8 132.9,37.8 134.6,44.7 135.4,42.2 136.0,39.2 136.8,33.3 137.5,28.1 138.3,23.2 139.0,20.0 139.8,17.2 140.5,15.5 141.1,14.0 141.8,15.5 142.4,17.2 143.2,20.0 143.9,23.2 144.6,28.2 145.3,33.4 146.1,39.3 146.7,42.3 147.5,44.8 147.7,43.8 149.3,37.8 151.0,44.7 151.8,42.2 152.4,39.2 153.2,33.3 153.9,28.1 154.7,23.2 155.4,20.0 156.2,17.2 156.9,15.5 157.5,14.0 158.2,15.5 158.8,17.2 159.6,20.0 160.3,23.2 161.0,28.2 161.7,33.4 162.5,39.3 163.1,42.3 163.9,44.8 164.1,43.8 165.7,37.8 167.4,44.7 168.2,42.2 168.8,39.2 169.6,33.3 170.3,28.1 171.1,23.2 171.8,20.0 172.6,17.2 173.3,15.5 173.9,14.0 174.6,15.5 175.2,17.2 176.0,20.0 176.7,23.2 177.4,28.2 178.1,33.4 178.9,39.3 179.5,42.3 180.3,44.8 180.5,43.8 182.1,37.8 183.8,44.7 184.6,42.2 185.2,39.2 186.0,33.3 186.7,28.1 187.5,23.2 188.2,20.0 189.0,17.2 189.7,15.5 190.3,14.0 191.0,15.5 191.6,17.2 192.4,20.0 193.1,23.2 193.8,28.2 194.5,33.4 195.3,39.3 195.9,42.3 196.7,44.8 196.9,43.8 198.5,37.8 200.2,44.7 201.0,42.2 201.6,39.2 202.4,33.3 203.1,28.1 203.9,23.2 204.6,20.0 205.4,17.2 206.1,15.5 206.7,14.0 207.4,15.5 208.0,17.2 208.8,20.0 209.5,23.2 210.2,28.2 210.9,33.4 211.7,39.3 212.3,42.3 213.1,44.8 213.3,43.8 214.9,37.8 216.6,44.7 217.4,42.2 218.0,39.2 218.8,33.3 219.5,28.1 220.3,23.2 221.0,20.0 221.8,17.2 222.5,15.5 223.1,14.0 223.8,15.5 224.4,17.2 225.2,20.0 225.9,23.2 226.6,28.2 227.3,33.4 228.1,39.3 228.7,42.3 229.5,44.8 229.7,43.8 231.3,37.8 233.0,44.7 233.8,42.2 234.4,39.2 235.2,33.3 235.9,28.1 236.7,23.2 237.4,20.0 238.2,17.2 238.9,15.5 239.5,14.0 240.2,15.5 240.8,17.2 241.6,20.0 242.3,23.2 243.0,28.2 243.7,33.4 244.5,39.3 245.1,42.3 245.9,44.8 246.1,43.8 247.7,37.8 249.4,44.7 250.2,42.2 250.8,39.2 251.6,33.3 252.3,28.1 253.1,23.2 253.8,20.0 254.6,17.2 255.3,15.5 255.9,14.0 256.6,15.5 257.2,17.2 258.0,20.0 258.7,23.2 259.4,28.2 260.1,33.4 260.9,39.3 261.5,42.3 262.3,44.8 262.5,43.8 264.1,37.8 265.8,44.7 266.6,42.2 267.2,39.2 268.0,33.3 268.7,28.1 269.5,23.2 270.2,20.0 271.0,17.2 271.7,15.5 272.3,14.0 273.0,15.5 273.6,17.2 274.4,20.0 275.1,23.2 275.8,28.2 276.5,33.4 277.3,39.3 277.9,42.3 278.7,44.8 278.9,43.8 280.5,37.8 282.2,44.7 283.0,42.2 283.6,39.2 284.4,33.3 285.1,28.1 285.9,23.2 286.6,20.0 287.4,17.2 288.1,15.5 288.7,14.0 289.4,15.5 290.0,17.2 290.8,20.0 291.5,23.2 292.2,28.2 292.9,33.4 293.7,39.3 294.3,42.3 295.1,44.8 295.3,43.8 296.9,37.8 298.6,44.7 299.4,42.2 300.0,39.2 300.8,33.3 301.5,28.1 302.3,23.2 303.0,20.0 303.8,17.2 304.5,15.5 305.1,14.0 305.8,15.5 306.4,17.2 307.2,20.0 307.9,23.2 308.6,28.2 309.3,33.4 310.1,39.3 310.7,42.3 311.5,44.8 311.7,43.8 313.3,37.8 315.0,44.7 315.8,42.2 316.4,39.2 317.2,33.3 317.9,28.1 318.7,23.2 319.4,20.0 320.2,17.2 320.9,15.5 321.5,14.0 322.2,15.5 322.8,17.2 323.6,20.0 324.3,23.2 325.0,28.2 325.7,33.4 326.5,39.3 327.1,42.3 327.9,44.8 328.1,43.8 329.7,37.8 331.4,44.7 332.2,42.2 332.8,39.2 333.6,33.3 334.3,28.1 335.1,23.2 335.8,20.0 336.6,17.2 337.3,15.5 337.9,14.0 338.6,15.5 339.2,17.2 340.0,20.0 340.7,23.2 341.4,28.2 342.1,33.4 342.9,39.3 343.5,42.3 344.3,44.8 344.5,43.8 346.1,37.8 347.8,44.7 348.6,42.2 349.2,39.2 350.0,33.3 350.7,28.1 351.5,23.2 352.2,20.0 353.0,17.2 353.7,15.5 354.3,14.0 355.0,15.5 355.6,17.2 356.4,20.0 357.1,23.2 357.8,28.2 358.5,33.4 359.3,39.3 359.9,42.3 360.7,44.8 360.9,43.8 362.5,37.8 364.2,44.7 365.0,42.2 365.6,39.2 366.4,33.3 367.1,28.1 367.9,23.2 368.6,20.0 369.4,17.2 370.1,15.5 370.7,14.0 371.4,15.5 372.0,17.2 372.8,20.0 373.5,23.2 374.2,28.2 374.9,33.4 375.7,39.3 376.3,42.3 377.1,44.8 377.3,43.8 378.9,37.8 380.6,44.7 381.4,42.2 382.0,39.2 382.8,33.3 383.5,28.1 384.3,23.2 385.0,20.0 385.8,17.2 386.5,15.5 387.1,14.0 387.8,15.5 388.4,17.2 389.2,20.0 389.9,23.2 390.6,28.2 391.3,33.4 392.1,39.3 392.7,42.3 393.5,44.8 393.7,43.8 395.3,37.8 397.0,44.7 397.8,42.2 398.4,39.2 399.2,33.3 399.9,28.1 400.7,23.2 401.4,20.0 402.2,17.2 402.9,15.5 403.5,14.0 404.2,15.5 404.8,17.2 405.6,20.0 406.3,23.2 407.0,28.2 407.7,33.4 408.5,39.3 409.1,42.3 409.9,44.8 410.1,43.8 411.7,37.8 413.4,44.7 414.2,42.2 414.8,39.2 415.6,33.3 416.3,28.1 417.1,23.2 417.8,20.0 418.6,17.2 419.3,15.5 419.9,14.0 420.6,15.5 421.2,17.2 422.0,20.0 422.7,23.2 423.4,28.2 424.1,33.4 424.9,39.3 425.5,42.3 426.3,44.8 426.5,43.8 428.1,37.8 429.8,44.7 430.6,42.2 431.2,39.2 432.0,33.3 432.7,28.1 433.5,23.2 434.2,20.0 435.0,17.2 435.7,15.5 436.3,14.0 437.0,15.5 437.6,17.2 438.4,20.0 439.1,23.2 439.8,28.2 440.5,33.4 441.3,39.3 441.9,42.3 442.7,44.8 442.9,43.8 444.5,37.8 446.2,44.7 447.0,42.2 447.6,39.2 448.4,33.3 449.1,28.1 449.9,23.2 450.6,20.0 451.4,17.2 452.1,15.5 452.7,14.0 453.4,15.5 454.0,17.2 454.8,20.0 455.5,23.2 456.2,28.2 456.9,33.4 457.7,39.3 458.3,42.3 459.1,44.8 459.3,43.8 460.9,37.8 462.6,44.7 463.4,42.2 464.0,39.2 464.8,33.3 465.5,28.1 466.3,23.2 467.0,20.0 467.8,17.2 468.5,15.5 469.1,14.0 469.8,15.5 470.4,17.2 471.2,20.0 471.9,23.2 472.6,28.2 473.3,33.4 474.1,39.3 474.7,42.3 475.5,44.8 475.7,43.8 477.3,37.8 479.0,44.7 479.8,42.2 480.4,39.2 481.2,33.3 481.9,28.1 482.7,23.2 483.4,20.0 484.2,17.2 484.9,15.5 485.5,14.0 486.2,15.5 486.8,17.2 487.6,20.0 488.3,23.2 489.0,28.2 489.7,33.4 490.5,39.3 491.1,42.3 491.9,44.8 492.1,43.8 493.7,37.8 495.4,44.7 496.2,42.2 496.8,39.2 497.6,33.3 498.3,28.1 499.1,23.2 499.8,20.0 500.6,17.2 501.3,15.5 501.9,14.0 502.6,15.5 503.2,17.2 504.0,20.0 504.7,23.2 505.4,28.2 506.1,33.4 506.9,39.3 507.5,42.3 508.3,44.8 508.5,43.8 510.1,37.8 511.8,44.7 512.6,42.2 513.2,39.2 514.0,33.3 514.7,28.1 515.5,23.2 516.2,20.0 517.0,17.2 517.7,15.5 518.3,14.0 519.0,15.5 519.6,17.2 520.4,20.0 521.1,23.2 521.8,28.2 522.5,33.4 523.3,39.3 523.9,42.3 524.7,44.8 524.9,43.8 526.5,37.8 528.2,44.7 529.0,42.2 529.6,39.2 530.4,33.3 531.1,28.1 531.9,23.2 532.6,20.0 533.4,17.2 534.1,15.5 534.7,14.0 535.4,15.5 536.0,17.2 536.8,20.0 537.5,23.2 538.2,28.2 538.9,33.4 539.7,39.3 540.3,42.3 541.1,44.8 541.3,43.8" fill="none" stroke="#ff00ff" stroke-width="1.22" stroke-linejoin="round" />
</g>
<path d="M46.2,118.6H544.9V9.7H46.2" fill="none" stroke="#000" stroke-width="1.0" stroke-linejoin="miter"/>
<line x1="46.2" y1="9.2" x2="46.2" y2="119.1" stroke="#000" stroke-width="1.35"/>
<line x1="49.3" y1="118.6" x2="49.3" y2="122.89999999999999" stroke="#000" stroke-width="0.95"/>
<line x1="49.3" y1="9.7" x2="49.3" y2="5.4" stroke="#000" stroke-width="0.95"/>
<line x1="65.7" y1="118.6" x2="65.7" y2="120.89999999999999" stroke="#000" stroke-width="0.95"/>
<line x1="65.7" y1="9.7" x2="65.7" y2="7.4" stroke="#000" stroke-width="0.95"/>
<line x1="82.1" y1="118.6" x2="82.1" y2="122.89999999999999" stroke="#000" stroke-width="0.95"/>
<line x1="82.1" y1="9.7" x2="82.1" y2="5.4" stroke="#000" stroke-width="0.95"/>
<line x1="98.5" y1="118.6" x2="98.5" y2="120.89999999999999" stroke="#000" stroke-width="0.95"/>
<line x1="98.5" y1="9.7" x2="98.5" y2="7.4" stroke="#000" stroke-width="0.95"/>
<line x1="114.9" y1="118.6" x2="114.9" y2="122.89999999999999" stroke="#000" stroke-width="0.95"/>
<line x1="114.9" y1="9.7" x2="114.9" y2="5.4" stroke="#000" stroke-width="0.95"/>
<line x1="131.3" y1="118.6" x2="131.3" y2="120.89999999999999" stroke="#000" stroke-width="0.95"/>
<line x1="131.3" y1="9.7" x2="131.3" y2="7.4" stroke="#000" stroke-width="0.95"/>
<line x1="147.7" y1="118.6" x2="147.7" y2="122.89999999999999" stroke="#000" stroke-width="0.95"/>
<line x1="147.7" y1="9.7" x2="147.7" y2="5.4" stroke="#000" stroke-width="0.95"/>
<line x1="164.1" y1="118.6" x2="164.1" y2="120.89999999999999" stroke="#000" stroke-width="0.95"/>
<line x1="164.1" y1="9.7" x2="164.1" y2="7.4" stroke="#000" stroke-width="0.95"/>
<line x1="180.5" y1="118.6" x2="180.5" y2="122.89999999999999" stroke="#000" stroke-width="0.95"/>
<line x1="180.5" y1="9.7" x2="180.5" y2="5.4" stroke="#000" stroke-width="0.95"/>
<line x1="196.9" y1="118.6" x2="196.9" y2="120.89999999999999" stroke="#000" stroke-width="0.95"/>
<line x1="196.9" y1="9.7" x2="196.9" y2="7.4" stroke="#000" stroke-width="0.95"/>
<line x1="213.3" y1="118.6" x2="213.3" y2="122.89999999999999" stroke="#000" stroke-width="0.95"/>
<line x1="213.3" y1="9.7" x2="213.3" y2="5.4" stroke="#000" stroke-width="0.95"/>
<line x1="229.7" y1="118.6" x2="229.7" y2="120.89999999999999" stroke="#000" stroke-width="0.95"/>
<line x1="229.7" y1="9.7" x2="229.7" y2="7.4" stroke="#000" stroke-width="0.95"/>
<line x1="246.1" y1="118.6" x2="246.1" y2="122.89999999999999" stroke="#000" stroke-width="0.95"/>
<line x1="246.1" y1="9.7" x2="246.1" y2="5.4" stroke="#000" stroke-width="0.95"/>
<line x1="262.5" y1="118.6" x2="262.5" y2="120.89999999999999" stroke="#000" stroke-width="0.95"/>
<line x1="262.5" y1="9.7" x2="262.5" y2="7.4" stroke="#000" stroke-width="0.95"/>
<line x1="278.9" y1="118.6" x2="278.9" y2="122.89999999999999" stroke="#000" stroke-width="0.95"/>
<line x1="278.9" y1="9.7" x2="278.9" y2="5.4" stroke="#000" stroke-width="0.95"/>
<line x1="295.3" y1="118.6" x2="295.3" y2="120.89999999999999" stroke="#000" stroke-width="0.95"/>
<line x1="295.3" y1="9.7" x2="295.3" y2="7.4" stroke="#000" stroke-width="0.95"/>
<line x1="311.7" y1="118.6" x2="311.7" y2="122.89999999999999" stroke="#000" stroke-width="0.95"/>
<line x1="311.7" y1="9.7" x2="311.7" y2="5.4" stroke="#000" stroke-width="0.95"/>
<line x1="328.1" y1="118.6" x2="328.1" y2="120.89999999999999" stroke="#000" stroke-width="0.95"/>
<line x1="328.1" y1="9.7" x2="328.1" y2="7.4" stroke="#000" stroke-width="0.95"/>
<line x1="344.5" y1="118.6" x2="344.5" y2="122.89999999999999" stroke="#000" stroke-width="0.95"/>
<line x1="344.5" y1="9.7" x2="344.5" y2="5.4" stroke="#000" stroke-width="0.95"/>
<line x1="360.9" y1="118.6" x2="360.9" y2="120.89999999999999" stroke="#000" stroke-width="0.95"/>
<line x1="360.9" y1="9.7" x2="360.9" y2="7.4" stroke="#000" stroke-width="0.95"/>
<line x1="377.3" y1="118.6" x2="377.3" y2="122.89999999999999" stroke="#000" stroke-width="0.95"/>
<line x1="377.3" y1="9.7" x2="377.3" y2="5.4" stroke="#000" stroke-width="0.95"/>
<line x1="393.7" y1="118.6" x2="393.7" y2="120.89999999999999" stroke="#000" stroke-width="0.95"/>
<line x1="393.7" y1="9.7" x2="393.7" y2="7.4" stroke="#000" stroke-width="0.95"/>
<line x1="410.1" y1="118.6" x2="410.1" y2="122.89999999999999" stroke="#000" stroke-width="0.95"/>
<line x1="410.1" y1="9.7" x2="410.1" y2="5.4" stroke="#000" stroke-width="0.95"/>
<line x1="426.5" y1="118.6" x2="426.5" y2="120.89999999999999" stroke="#000" stroke-width="0.95"/>
<line x1="426.5" y1="9.7" x2="426.5" y2="7.4" stroke="#000" stroke-width="0.95"/>
<line x1="442.9" y1="118.6" x2="442.9" y2="122.89999999999999" stroke="#000" stroke-width="0.95"/>
<line x1="442.9" y1="9.7" x2="442.9" y2="5.4" stroke="#000" stroke-width="0.95"/>
<line x1="459.3" y1="118.6" x2="459.3" y2="120.89999999999999" stroke="#000" stroke-width="0.95"/>
<line x1="459.3" y1="9.7" x2="459.3" y2="7.4" stroke="#000" stroke-width="0.95"/>
<line x1="475.7" y1="118.6" x2="475.7" y2="122.89999999999999" stroke="#000" stroke-width="0.95"/>
<line x1="475.7" y1="9.7" x2="475.7" y2="5.4" stroke="#000" stroke-width="0.95"/>
<line x1="492.1" y1="118.6" x2="492.1" y2="120.89999999999999" stroke="#000" stroke-width="0.95"/>
<line x1="492.1" y1="9.7" x2="492.1" y2="7.4" stroke="#000" stroke-width="0.95"/>
<line x1="508.5" y1="118.6" x2="508.5" y2="122.89999999999999" stroke="#000" stroke-width="0.95"/>
<line x1="508.5" y1="9.7" x2="508.5" y2="5.4" stroke="#000" stroke-width="0.95"/>
<line x1="524.9" y1="118.6" x2="524.9" y2="120.89999999999999" stroke="#000" stroke-width="0.95"/>
<line x1="524.9" y1="9.7" x2="524.9" y2="7.4" stroke="#000" stroke-width="0.95"/>
<line x1="541.3" y1="118.6" x2="541.3" y2="122.89999999999999" stroke="#000" stroke-width="0.95"/>
<line x1="541.3" y1="9.7" x2="541.3" y2="5.4" stroke="#000" stroke-width="0.95"/>
<line x1="46.2" y1="94.0" x2="41.6" y2="94.0" stroke="#000" stroke-width="0.95"/>
<line x1="46.2" y1="61.5" x2="41.6" y2="61.5" stroke="#000" stroke-width="0.95"/>
<line x1="46.2" y1="28.9" x2="41.6" y2="28.9" stroke="#000" stroke-width="0.95"/>
<line x1="46.2" y1="110.3" x2="43.800000000000004" y2="110.3" stroke="#000" stroke-width="0.95"/>
<line x1="46.2" y1="77.7" x2="43.800000000000004" y2="77.7" stroke="#000" stroke-width="0.95"/>
<line x1="46.2" y1="45.2" x2="43.800000000000004" y2="45.2" stroke="#000" stroke-width="0.95"/>
<line x1="46.2" y1="12.6" x2="43.800000000000004" y2="12.6" stroke="#000" stroke-width="0.95"/>
<text x="39.2" y="97.8" text-anchor="end" class="t">400</text>
<text x="39.2" y="65.2" text-anchor="end" class="t">600</text>
<text x="39.2" y="32.7" text-anchor="end" class="t">800</text>
<text x="49.3" y="134.6" text-anchor="middle" class="t">0</text>
<text x="82.1" y="134.6" text-anchor="middle" class="t">2</text>
<text x="114.9" y="134.6" text-anchor="middle" class="t">4</text>
<text x="147.7" y="134.6" text-anchor="middle" class="t">6</text>
<text x="180.5" y="134.6" text-anchor="middle" class="t">8</text>
<text x="213.3" y="134.6" text-anchor="middle" class="t">10</text>
<text x="246.1" y="134.6" text-anchor="middle" class="t">12</text>
<text x="278.9" y="134.6" text-anchor="middle" class="t">14</text>
<text x="311.7" y="134.6" text-anchor="middle" class="t">16</text>
<text x="344.5" y="134.6" text-anchor="middle" class="t">18</text>
<text x="377.3" y="134.6" text-anchor="middle" class="t">20</text>
<text x="410.1" y="134.6" text-anchor="middle" class="t">22</text>
<text x="442.9" y="134.6" text-anchor="middle" class="t">24</text>
<text x="475.7" y="134.6" text-anchor="middle" class="t">26</text>
<text x="508.5" y="134.6" text-anchor="middle" class="t">28</text>
<text x="541.3" y="134.6" text-anchor="middle" class="t">30</text>
<text x="295.6" y="155.2" text-anchor="middle" class="xl">Mesh Cycle</text>
<text class="pl" x="7.3" y="15.8">(a)</text>
<text class="yl" transform="translate(13.0,71.5) rotate(-90)" text-anchor="middle">LPMS(N/μm)</text>
</g>
<g id="panel-b">
<path d="M49.3,232.3C50.9,234.0 52.1,236.0 54.0,237.3C55.6,238.4 57.6,239.0 59.6,239.2C61.6,239.4 63.6,238.6 65.6,238.3C65.7,231.7 65.7,225.2 65.7,218.7C66.8,219.1 67.8,219.6 68.9,220.0C69.8,222.0 70.4,224.3 71.7,226.1C72.6,227.6 73.9,229.0 75.4,229.9C77.4,231.0 79.8,231.1 82.0,231.7C82.1,227.4 82.1,223.0 82.1,218.7C85.2,219.0 88.2,219.7 91.2,219.6C92.9,219.6 94.4,218.8 95.9,218.1C96.6,217.8 97.1,217.3 97.8,216.8C98.1,215.6 98.5,214.3 98.9,213.1C99.7,213.3 100.7,213.3 101.5,213.7C102.8,214.3 103.8,215.7 105.2,216.3C106.7,216.9 108.3,217.0 109.9,217.4C111.4,217.7 113.0,217.8 114.5,218.3C114.9,218.5 115.0,219.3 115.5,219.3C115.9,219.2 116.0,218.4 116.4,218.1C116.8,217.8 117.3,217.5 117.9,217.4C119.8,217.0 121.9,217.1 123.8,216.8C125.1,216.6 126.4,216.3 127.6,215.9C128.2,215.7 128.9,215.4 129.3,215.0C130.1,214.2 130.6,213.1 131.2,212.2C131.5,213.4 131.8,214.7 132.1,215.9C133.7,217.1 135.0,218.7 136.8,219.6C138.2,220.4 139.8,221.1 141.4,221.1C143.6,221.1 145.6,220.1 147.6,219.6C147.7,216.8 147.7,214.0 147.8,211.2C148.7,211.4 149.8,211.4 150.7,211.8C152.1,212.4 153.1,213.5 154.5,214.0C155.6,214.5 156.9,214.8 158.2,215.0C160.0,215.3 162.2,216.5 163.8,215.5C165.0,214.8 164.2,212.7 164.3,211.2C165.1,211.7 165.8,212.3 166.6,212.5C168.7,213.2 170.9,214.1 173.1,214.0C175.4,214.0 177.4,212.8 179.6,212.2C180.1,209.2 180.6,206.2 181.1,203.2C181.9,203.4 182.7,203.4 183.4,203.8C185.0,204.8 186.3,206.5 188.0,207.5C189.7,208.6 191.8,209.0 193.6,209.9C194.6,210.4 195.5,211.2 196.4,211.8C196.7,210.1 197.0,208.3 197.3,206.6C198.3,206.1 199.1,205.4 200.1,205.1C201.9,204.6 203.9,204.8 205.7,204.3C207.6,203.9 209.3,203.1 211.2,202.5C211.9,202.3 212.6,202.1 213.2,201.9C213.3,207.1 213.3,212.2 213.4,217.4C213.9,216.3 214.4,215.1 214.9,214.0C215.5,212.8 216.1,211.5 216.8,210.3C218.9,210.6 221.1,211.5 223.3,211.2C225.3,211.0 227.0,209.6 228.9,208.8C229.1,208.7 229.4,208.7 229.6,208.6C229.7,216.8 229.7,224.9 229.8,233.0C230.7,232.0 231.4,230.5 232.6,229.9C234.6,228.8 237.2,229.1 239.1,228.0C240.6,227.2 241.5,225.6 242.5,224.3C243.4,223.1 244.0,221.8 244.7,220.6C245.2,219.8 245.6,218.9 246.0,218.1C246.1,223.3 246.1,228.4 246.1,233.6C249.4,234.2 252.6,235.6 255.9,235.5C258.2,235.4 260.2,233.8 262.4,233.0C263.0,232.8 263.7,232.9 264.3,232.7C264.8,232.5 265.2,232.0 265.6,231.7C267.0,232.4 268.4,233.1 269.9,233.6C271.4,234.1 272.9,234.4 274.5,234.5C275.8,234.6 277.0,234.3 278.3,234.2C278.6,236.1 277.5,239.1 279.2,240.1C281.1,241.3 283.5,239.2 285.7,238.8C286.3,238.7 286.9,238.9 287.5,238.7C289.7,237.6 291.8,236.2 294.0,235.0C294.4,234.7 294.8,234.3 295.3,234.0C295.7,235.0 295.6,236.2 296.4,236.8C297.0,237.3 297.9,236.6 298.6,236.8C300.3,237.4 301.7,238.4 303.3,239.1C304.8,239.7 306.3,240.3 307.9,240.6C309.2,240.8 310.4,240.6 311.6,240.6C311.7,242.6 311.7,244.7 311.8,246.7C312.2,245.1 312.4,243.4 313.0,241.9C313.3,241.0 314.0,240.4 314.5,239.6C316.3,239.6 318.2,240.0 320.1,239.6C322.3,239.2 324.5,238.4 326.6,237.4C327.2,237.1 327.6,236.4 328.0,235.9C328.1,244.0 328.1,252.0 328.1,260.1C329.5,259.5 330.8,258.7 332.2,258.3C333.4,257.9 334.7,258.0 335.9,257.9C337.1,256.8 338.6,255.8 339.6,254.5C340.8,253.1 341.6,251.5 342.4,249.9C343.0,248.7 343.4,247.4 343.9,246.1C344.3,249.3 344.1,252.5 345.2,255.5C345.5,256.2 346.7,255.5 347.4,255.5C348.6,256.7 349.5,258.2 350.8,259.2C351.9,260.0 353.1,260.9 354.5,261.1C355.8,261.1 357.1,260.3 358.3,259.7C359.6,259.1 360.9,258.3 362.0,257.3C362.8,256.6 363.2,255.5 363.8,254.5C364.8,254.8 365.7,255.1 366.6,255.5C367.9,256.0 368.9,257.3 370.2,257.3C372.5,257.3 374.6,256.1 376.8,255.5C377.2,258.3 376.4,261.6 378.1,263.8C379.0,265.0 380.9,263.2 382.4,262.9C383.6,262.6 384.9,262.4 386.1,262.0C387.4,261.5 388.7,260.9 389.8,260.1C390.9,259.4 391.9,258.4 392.6,257.3C393.3,256.4 393.5,255.2 393.9,254.2C394.7,255.8 395.1,257.8 396.3,259.2C397.6,260.6 399.3,261.4 401.0,262.4C402.2,263.0 403.4,263.6 404.7,263.8C406.5,264.1 409.3,265.5 410.0,263.8C411.7,260.2 410.1,255.8 410.1,251.7C411.1,250.7 412.1,249.6 413.1,248.6C414.0,249.6 414.7,251.0 415.9,251.7C417.3,252.6 419.0,252.9 420.6,253.4C422.1,253.9 423.7,254.2 425.2,254.5C425.8,257.9 425.5,261.7 427.1,264.8C427.5,265.7 428.9,264.1 429.9,263.8C431.1,263.5 432.5,263.5 433.6,262.9C435.0,262.2 436.2,261.2 437.3,260.1C438.4,259.0 439.3,257.7 440.1,256.4C441.0,254.9 441.6,253.3 442.4,251.7C443.2,254.2 444.0,256.7 444.8,259.2C444.9,259.6 444.9,260.1 445.2,260.4C446.2,261.5 447.4,262.5 448.7,263.3C450.2,264.1 451.8,264.7 453.5,264.9C455.4,265.2 458.4,266.7 459.2,264.9C461.0,261.3 459.3,256.9 459.3,252.9C460.2,252.6 461.0,252.4 461.8,252.1C463.1,252.9 464.5,253.9 465.9,254.6C467.2,255.2 468.6,255.9 470.0,256.2C471.7,256.7 473.5,256.8 475.2,257.1C475.4,257.6 475.1,258.6 475.6,258.7C476.8,259.1 478.1,258.5 479.4,258.3C481.1,258.1 482.8,258.1 484.5,257.7C485.8,257.4 487.0,256.9 488.1,256.2C489.1,255.5 490.3,254.7 490.8,253.5C491.8,250.9 491.9,248.0 492.4,245.3C493.0,246.2 493.6,247.1 494.3,248.0C495.8,250.0 497.2,252.3 499.0,254.2C500.2,255.4 501.6,256.4 503.2,257.1C504.8,257.8 506.7,257.9 508.4,258.3C508.5,253.8 508.5,249.2 508.5,244.6C509.9,244.9 511.2,245.3 512.5,245.5C514.2,245.7 516.0,246.0 517.7,245.9C518.9,245.8 520.1,245.1 521.2,244.6C522.1,244.2 523.0,243.7 523.9,243.2C524.2,241.8 524.6,240.4 524.9,239.0C525.6,239.7 526.2,240.6 527.0,241.1C528.3,242.0 529.7,242.6 531.2,243.2C532.5,243.7 533.9,244.1 535.3,244.2C537.2,244.3 539.0,243.9 540.9,243.8C541.0,242.2 541.2,240.6 541.3,239.0" fill="none" stroke="#ff0000" stroke-width="1.5" stroke-linejoin="round"/>
<path d="M49.3,224.3C50.9,226.6 52.0,229.2 54.0,231.2C55.2,232.4 56.9,233.5 58.6,233.6C61.0,233.7 63.3,232.4 65.6,231.7C65.7,225.5 65.7,219.3 65.7,213.1C66.8,213.4 67.8,213.7 68.9,214.0C70.1,216.0 71.0,218.3 72.6,220.0C73.9,221.4 75.5,222.6 77.3,223.4C78.7,224.0 81.4,225.4 82.0,223.9C83.6,220.7 82.1,216.7 82.1,213.1C85.2,213.5 88.2,214.5 91.2,214.4C92.9,214.3 94.5,213.4 95.9,212.5C96.7,212.0 97.3,211.2 97.8,210.3C98.2,209.5 98.1,208.4 98.3,207.5C99.4,207.5 100.4,207.5 101.5,207.5C102.7,208.6 103.8,209.9 105.2,210.7C106.6,211.5 108.3,212.0 109.9,212.2C111.4,212.4 113.0,211.9 114.5,211.8C114.8,211.5 115.2,211.2 115.5,210.9C115.8,211.3 116.1,211.7 116.4,212.2C116.9,211.5 117.4,210.9 117.9,210.3C118.8,210.7 119.6,211.1 120.5,211.4C121.6,211.8 122.7,212.3 123.8,212.2C125.2,212.0 126.4,211.4 127.6,210.7C128.6,210.0 129.5,209.0 130.2,208.1C130.7,207.5 130.9,206.8 131.2,206.2C131.5,207.5 131.6,208.7 132.1,209.9C132.6,211.1 133.1,212.3 134.0,213.1C135.0,214.0 136.4,214.5 137.7,215.0C138.9,215.4 140.2,216.0 141.4,215.9C143.6,215.7 145.6,214.7 147.6,214.0C147.7,210.9 147.7,207.8 147.8,204.7C148.7,204.7 149.7,204.7 150.7,204.7C152.0,205.8 153.1,207.1 154.5,208.1C155.6,208.9 156.8,209.8 158.2,209.9C160.1,210.1 161.9,209.2 163.8,208.8C164.0,207.5 164.2,206.1 164.3,204.7C165.1,205.2 165.8,205.7 166.6,206.2C167.7,207.0 168.7,207.9 169.9,208.4C170.9,208.9 172.0,209.4 173.1,209.4C174.4,209.3 175.7,208.7 176.8,208.1C177.9,207.5 178.7,206.5 179.6,205.6C180.1,202.7 180.5,199.8 180.9,196.9C181.7,196.9 182.5,196.9 183.4,196.9C184.9,198.4 186.2,200.2 188.0,201.4C189.7,202.5 191.6,203.2 193.6,203.8C194.5,204.0 195.6,204.3 196.4,203.8C197.2,203.2 196.7,201.8 197.3,201.0C198.0,200.0 199.2,199.5 200.1,198.8C201.1,199.0 202.0,199.3 202.9,199.5C203.8,199.7 204.8,200.2 205.7,200.1C207.0,199.9 208.2,199.4 209.3,198.8C210.4,198.1 211.2,197.1 212.1,196.3C212.5,196.0 212.9,195.7 213.2,195.4C213.3,200.5 213.3,205.6 213.4,210.7C213.9,209.6 214.4,208.6 214.9,207.5C215.5,206.3 216.1,205.0 216.8,203.8C217.7,204.2 218.6,204.8 219.6,205.1C220.8,205.4 222.1,205.9 223.3,205.6C225.3,205.2 227.0,203.7 228.9,202.9C229.1,202.7 229.4,202.7 229.6,202.7C229.7,210.5 229.7,218.3 229.8,226.1C230.7,224.6 231.7,223.0 232.6,221.5C234.8,220.7 237.0,220.2 239.1,219.3C240.4,218.7 241.5,217.8 242.5,216.8C243.4,216.0 244.0,215.0 244.7,214.0C245.2,213.4 245.6,212.8 246.0,212.2C246.1,217.8 246.1,223.4 246.1,228.9C247.8,229.4 249.5,229.9 251.2,230.2C252.8,230.5 254.4,231.1 255.9,230.8C258.2,230.3 260.2,228.9 262.4,228.0C263.0,227.8 263.7,227.8 264.3,227.4C264.8,227.1 265.2,226.6 265.6,226.1C267.0,227.0 268.4,227.9 269.9,228.6C271.4,229.2 272.9,229.8 274.5,229.9C275.8,229.9 277.0,229.3 278.3,228.9C278.6,230.7 277.7,233.2 279.2,234.2C281.0,235.3 283.5,233.8 285.7,233.8C286.3,233.8 286.9,234.2 287.5,234.0C288.8,233.6 290.0,233.0 291.2,232.2C292.3,231.4 293.1,230.4 294.0,229.4C294.5,228.8 294.8,228.1 295.3,227.5C295.7,228.8 296.0,230.0 296.4,231.2C297.0,230.9 297.5,230.6 298.1,230.3C299.5,231.2 300.8,232.4 302.4,233.1C304.1,233.9 306.0,234.8 307.9,235.0C309.2,235.1 310.4,234.3 311.6,234.0C311.7,236.2 311.7,238.4 311.8,240.6C312.2,239.0 312.4,237.4 313.0,235.9C313.3,235.2 314.0,234.7 314.5,234.0C316.3,234.3 318.2,235.3 320.1,235.0C322.4,234.6 324.5,233.4 326.6,232.2C327.3,231.8 327.6,230.9 328.0,230.3C328.1,238.1 328.1,245.8 328.1,253.6C329.5,252.7 330.7,251.4 332.2,250.8C333.3,250.3 334.8,250.9 335.9,250.4C337.3,249.8 338.5,248.6 339.6,247.4C340.7,246.2 341.5,244.8 342.4,243.4C343.0,242.5 343.4,241.5 343.9,240.6C344.3,243.7 344.0,247.0 345.2,249.9C345.5,250.6 346.7,249.5 347.4,249.3C348.6,250.7 349.4,252.4 350.8,253.6C351.9,254.5 353.1,255.4 354.5,255.5C355.8,255.6 357.1,254.7 358.3,254.2C359.6,253.5 360.9,252.7 362.0,251.7C362.8,251.0 363.2,249.9 363.8,248.9C364.8,249.9 365.7,250.8 366.6,251.7C367.8,251.9 369.1,252.6 370.2,252.3C372.6,251.7 374.6,250.3 376.8,249.3C377.2,252.3 376.3,255.8 378.1,258.3C378.9,259.5 380.9,257.6 382.4,257.3C383.6,257.1 384.9,257.2 386.1,256.8C387.4,256.3 388.7,255.4 389.8,254.5C390.9,253.7 391.9,252.8 392.6,251.7C393.3,250.8 393.5,249.6 393.9,248.6C394.7,250.2 395.2,252.2 396.3,253.6C397.6,255.1 399.3,256.2 401.0,257.3C402.1,258.1 403.3,259.1 404.7,259.2C406.3,259.3 407.8,258.3 409.4,257.9C409.8,253.7 410.2,249.4 410.7,245.2C411.2,245.1 411.7,245.0 412.2,244.8C412.6,244.0 413.0,243.2 413.5,242.4C414.3,243.5 414.8,244.8 415.9,245.6C417.3,246.6 419.0,246.9 420.6,247.4C422.1,247.9 423.7,248.2 425.2,248.6C425.8,251.8 426.5,255.0 427.1,258.3C428.0,257.6 428.9,256.9 429.9,256.4C431.1,255.7 432.4,255.3 433.6,254.5C434.9,253.7 436.2,252.8 437.3,251.7C438.7,250.3 439.8,248.7 441.1,247.1C441.5,246.5 441.9,245.8 442.4,245.2C443.2,247.4 444.1,249.5 444.8,251.7C445.0,252.5 444.8,253.5 445.2,254.2C446.1,255.7 447.3,257.2 448.7,258.3C450.1,259.3 451.7,260.3 453.5,260.4C455.5,260.5 457.3,259.3 459.2,258.7C459.3,254.9 459.3,251.1 459.3,247.3C460.2,246.8 461.0,246.4 461.8,245.9C463.1,247.1 464.4,248.4 465.9,249.4C467.2,250.3 468.5,251.3 470.0,251.5C471.8,251.7 473.5,250.3 475.2,250.4C476.7,250.5 477.9,251.7 479.4,252.1C481.1,252.5 482.8,253.0 484.5,252.9C485.8,252.8 487.0,252.2 488.1,251.5C489.2,250.7 490.3,249.7 490.8,248.4C491.8,245.4 491.9,242.2 492.4,239.0C493.0,239.7 493.7,240.4 494.3,241.1C495.9,243.0 497.2,245.0 499.0,246.7C500.2,247.8 501.7,248.8 503.2,249.4C504.8,250.1 506.7,250.1 508.4,250.4C508.5,246.6 508.5,242.8 508.5,239.0C509.5,238.9 510.5,238.4 511.5,238.6C513.6,239.1 515.5,240.9 517.7,241.1C519.0,241.2 520.2,240.4 521.2,239.7C522.3,239.0 523.3,238.1 523.9,237.0C524.6,235.7 524.6,234.2 524.9,232.8C525.6,233.7 526.2,234.8 527.0,235.5C528.3,236.6 529.6,237.7 531.2,238.4C532.4,239.1 533.9,239.6 535.3,239.7C537.3,239.8 539.3,239.3 541.2,239.0C541.3,235.4 541.3,231.7 541.3,228.1" fill="none" stroke="#00ff00" stroke-width="1.5" stroke-linejoin="round"/>
<path d="M49.3,214.0C50.9,216.8 51.9,220.0 54.0,222.4C55.4,224.1 57.4,225.7 59.6,226.1C60.7,226.4 61.5,225.0 62.4,224.3C63.5,223.4 64.6,222.4 65.6,221.5C65.7,215.6 65.7,209.7 65.7,203.8C66.8,203.8 67.8,203.8 68.9,203.8C70.1,206.0 71.0,208.4 72.6,210.3C73.9,211.8 75.4,213.4 77.3,214.0C78.8,214.6 80.5,213.8 82.0,213.7C82.1,209.9 82.1,206.2 82.1,202.5C83.0,202.5 83.9,202.5 84.7,202.5C85.6,203.2 86.5,204.1 87.5,204.7C88.7,205.4 89.9,206.5 91.2,206.2C92.9,205.8 93.9,204.1 95.0,202.9C96.2,201.4 97.1,199.7 98.3,198.2C98.7,197.7 99.2,197.3 99.6,196.9C100.0,197.2 100.3,197.8 100.7,197.8C101.3,197.8 101.6,197.2 102.0,196.9C103.1,198.4 103.9,200.1 105.2,201.4C106.8,202.8 108.6,204.5 110.8,204.7C112.2,204.9 113.4,203.3 114.5,202.5C114.9,202.2 115.2,201.7 115.5,201.4C115.8,201.7 116.1,202.1 116.4,202.5C116.9,201.9 117.4,201.2 117.9,200.6C118.8,201.4 119.5,202.2 120.5,202.9C121.5,203.5 122.6,204.6 123.8,204.3C125.4,204.0 126.4,202.5 127.6,201.4C128.6,200.4 129.4,199.3 130.2,198.2C130.7,197.6 130.9,197.0 131.2,196.3C131.5,197.6 131.5,198.9 132.1,200.1C132.5,200.8 133.4,201.3 134.0,201.9C135.2,203.2 136.3,204.6 137.7,205.6C138.8,206.5 140.0,207.5 141.4,207.5C142.5,207.5 143.3,206.3 144.2,205.6C145.4,204.8 146.5,203.8 147.6,202.9C147.7,200.2 147.7,197.6 147.8,195.0C148.3,195.5 148.6,196.3 149.3,196.3C149.8,196.4 150.2,195.7 150.7,195.4C152.0,197.1 153.0,199.1 154.5,200.6C155.5,201.6 156.7,202.8 158.2,202.9C159.4,202.9 160.4,201.8 161.4,201.0C162.3,200.2 163.2,199.3 163.8,198.2C164.3,197.2 164.4,196.1 164.7,195.0C165.3,195.6 165.9,196.3 166.6,196.9C167.7,197.8 168.7,198.7 169.9,199.5C170.9,200.1 171.9,201.1 173.1,201.0C174.5,200.8 175.7,199.7 176.8,198.8C177.9,197.8 179.2,196.8 179.6,195.4C180.6,192.5 180.5,189.4 180.9,186.5C181.4,187.1 181.7,188.0 182.4,188.3C182.9,188.5 183.3,187.8 183.7,187.6C185.2,189.6 186.2,191.9 188.0,193.5C189.3,194.7 190.9,195.7 192.7,195.8C194.1,195.8 195.3,194.7 196.4,193.9C196.9,193.6 197.0,192.9 197.3,192.4C197.7,192.4 198.1,192.3 198.4,192.2C199.1,190.9 199.8,189.6 200.5,188.3C201.3,189.3 201.9,190.5 202.9,191.3C203.8,192.0 205.0,192.8 206.1,192.6C207.4,192.4 208.3,191.1 209.3,190.2C210.3,189.2 211.2,188.1 212.1,187.0C212.6,186.4 212.9,185.8 213.2,185.2C213.3,190.1 213.3,195.1 213.4,200.1C213.9,199.1 214.4,198.2 214.9,197.3C215.6,196.0 216.1,194.8 216.8,193.5C217.7,194.5 218.5,195.6 219.6,196.3C220.7,197.1 221.9,198.2 223.3,198.2C224.5,198.2 225.5,197.2 226.5,196.3C227.4,195.4 228.0,194.2 228.9,193.2C229.1,193.0 229.4,192.9 229.6,192.8C229.7,200.4 229.7,207.9 229.8,215.5C230.7,213.9 231.7,212.3 232.6,210.7C234.5,210.4 236.4,210.5 238.2,209.9C239.6,209.5 240.8,208.5 241.9,207.5C243.1,206.4 243.8,205.0 244.7,203.8C245.2,203.2 245.6,202.5 246.0,201.9C246.1,207.7 246.1,213.5 246.1,219.3C247.0,218.9 247.9,218.5 248.8,218.1C249.9,219.1 250.9,220.3 252.2,221.1C253.3,221.8 254.6,222.5 255.9,222.4C257.3,222.3 258.5,221.4 259.6,220.6C260.7,219.8 261.5,218.7 262.4,217.8C262.7,217.4 263.0,217.1 263.4,216.8C263.7,217.3 264.0,217.7 264.3,218.1C264.7,217.3 265.2,216.4 265.6,215.5C266.7,216.8 267.5,218.3 268.9,219.3C270.6,220.4 272.5,221.7 274.5,221.5C276.3,221.3 277.4,219.3 278.8,218.1C278.9,220.2 278.9,222.2 278.9,224.3C280.0,224.0 281.0,223.7 282.0,223.4C283.2,223.8 284.5,224.3 285.7,224.8C286.3,225.1 286.8,225.8 287.5,225.6C288.7,225.4 289.8,224.6 290.8,223.8C292.0,222.7 293.1,221.4 294.0,220.1C294.6,219.2 294.8,218.2 295.3,217.3C295.8,218.8 296.3,220.4 296.8,221.9C297.2,221.3 297.6,220.7 298.1,220.1C299.5,221.5 300.7,223.2 302.4,224.3C304.0,225.5 305.9,226.7 307.9,226.6C309.5,226.5 310.4,224.7 311.6,223.8C311.7,226.0 311.7,228.1 311.8,230.3C312.2,228.8 312.4,227.1 313.0,225.6C313.3,224.8 314.0,224.0 314.5,223.2C315.4,223.8 316.3,224.6 317.3,225.1C318.2,225.6 319.1,226.3 320.1,226.2C321.4,226.1 322.7,225.5 323.8,224.7C324.9,224.0 325.7,222.9 326.6,221.9C327.1,221.3 327.6,220.7 328.0,220.1C328.1,228.1 328.1,236.2 328.1,244.3C329.5,243.0 330.8,241.8 332.2,240.6C333.4,240.7 334.7,241.4 335.9,241.1C337.3,240.8 338.6,239.8 339.6,238.7C340.9,237.4 341.6,235.7 342.4,234.0C343.1,232.7 343.4,231.3 343.9,229.9C344.3,233.5 344.8,237.0 345.2,240.6C346.0,240.2 346.7,239.9 347.4,239.6C348.6,241.5 349.4,243.6 350.8,245.2C351.8,246.4 353.0,247.9 354.5,248.0C356.0,248.1 357.1,246.6 358.3,245.6C359.6,244.4 360.9,243.0 362.0,241.5C362.7,240.5 363.2,239.3 363.8,238.1C364.8,239.3 365.6,240.5 366.6,241.5C367.7,242.5 368.8,244.0 370.2,244.3C371.5,244.5 372.8,243.7 374.0,243.0C375.0,242.4 375.7,241.5 376.4,240.6C376.8,240.0 377.0,239.3 377.2,238.7C377.3,242.1 377.3,245.5 377.4,248.9C378.4,248.3 379.4,247.7 380.5,247.1C381.4,247.7 382.3,248.4 383.3,248.9C384.2,249.4 385.2,250.2 386.1,249.9C387.6,249.3 388.7,247.9 389.8,246.7C390.9,245.4 391.8,243.9 392.6,242.4C393.2,241.2 393.5,239.9 393.9,238.7C394.7,240.6 395.1,242.6 396.3,244.3C397.6,246.0 399.3,247.3 401.0,248.6C402.1,249.5 403.3,250.9 404.7,250.8C406.5,250.7 407.8,248.9 409.4,248.0C409.8,244.0 410.2,239.9 410.7,235.9C411.2,235.9 411.8,236.3 412.2,235.9C412.9,235.0 413.0,233.8 413.5,232.7C414.3,234.1 414.7,235.8 415.9,236.8C417.2,238.0 418.9,238.6 420.6,239.3C422.1,239.8 423.6,240.9 425.2,240.6C426.1,240.4 426.0,238.9 426.4,238.1C426.5,241.1 426.5,244.1 426.6,247.1C427.7,246.5 428.8,245.8 429.9,245.2C431.1,245.5 432.3,246.4 433.6,246.1C435.1,245.9 436.2,244.7 437.3,243.7C438.7,242.5 440.1,241.2 441.1,239.6C441.8,238.4 441.9,236.9 442.4,235.5C443.2,238.1 444.0,240.7 444.8,243.4C444.9,243.8 444.9,244.3 445.2,244.6C446.3,246.3 447.3,248.0 448.7,249.4C450.1,250.7 451.6,252.5 453.5,252.5C455.4,252.5 456.6,250.4 458.2,249.4C458.7,245.3 459.2,241.1 459.7,237.0C460.4,236.5 461.1,236.0 461.8,235.5C463.1,237.0 464.4,238.7 465.9,240.1C467.2,241.3 468.4,242.8 470.0,243.2C471.2,243.4 472.1,242.3 473.1,241.7C473.9,241.4 474.5,240.9 475.2,240.5C475.9,240.9 476.6,241.4 477.3,241.7C478.7,242.5 480.0,243.2 481.4,243.8C482.4,244.2 483.5,244.8 484.5,244.6C485.9,244.4 487.1,243.5 488.1,242.6C489.2,241.6 490.3,240.5 490.8,239.0C491.8,235.5 491.9,231.7 492.4,228.1C493.0,229.0 493.7,229.8 494.3,230.8C495.9,233.3 497.1,236.1 499.0,238.4C500.2,239.8 501.5,241.4 503.2,241.7C504.9,242.1 506.7,240.9 508.4,240.5C508.5,236.6 508.5,232.6 508.5,228.7C509.5,228.5 510.5,228.3 511.5,228.1C512.5,229.3 513.4,230.7 514.6,231.8C515.5,232.6 516.5,233.6 517.7,233.4C519.1,233.2 520.2,231.8 521.2,230.8C522.3,229.5 523.2,228.1 523.9,226.6C524.5,225.3 524.6,223.9 524.9,222.5C525.5,223.2 525.8,224.2 526.6,224.5C527.1,224.8 527.6,224.1 528.0,223.9C529.1,225.5 529.8,227.3 531.2,228.7C532.3,229.9 533.7,231.4 535.3,231.4C537.5,231.4 539.3,229.6 541.2,228.7C541.3,223.9 541.3,219.0 541.3,214.2" fill="none" stroke="#0000ff" stroke-width="1.5" stroke-linejoin="round"/>
<path d="M49.3,198.2C50.1,200.1 50.7,202.0 51.6,203.8C52.5,205.7 53.5,207.7 54.9,209.4C56.2,211.0 57.5,213.1 59.6,213.7C60.8,214.0 61.5,212.1 62.4,211.2C63.5,210.1 64.6,208.8 65.6,207.5C65.7,200.4 65.7,193.2 65.7,186.1C66.2,187.0 66.1,188.4 67.0,188.9C67.6,189.2 68.3,188.3 68.9,187.9C69.8,190.4 70.4,193.1 71.7,195.4C72.9,197.6 74.2,200.0 76.3,201.4C77.2,201.9 78.3,200.7 79.1,200.1C80.2,199.3 81.1,198.2 82.0,197.3C82.1,193.8 82.1,190.4 82.1,187.0C82.7,187.3 83.2,187.9 83.8,187.9C84.3,188.0 84.7,187.6 85.1,187.4C85.9,188.5 86.6,189.7 87.5,190.7C88.6,192.0 89.6,194.3 91.2,194.1C93.1,193.9 93.9,191.4 95.0,189.8C96.3,187.8 97.1,185.4 98.3,183.3C98.7,182.6 99.2,182.0 99.6,181.4C99.9,182.0 100.2,182.7 100.6,183.3C101.1,182.5 101.5,181.7 102.0,180.9C102.8,182.6 103.4,184.4 104.3,186.1C105.0,187.4 106.0,188.7 107.1,189.8C107.9,190.6 108.8,191.7 109.9,191.7C111.0,191.7 111.9,190.6 112.7,189.8C113.5,189.0 114.0,188.0 114.5,187.0C114.9,186.4 115.2,185.8 115.5,185.2C115.8,185.8 116.1,186.4 116.4,187.0C116.9,186.2 117.4,185.4 117.9,184.6C118.6,185.7 119.1,187.1 120.1,187.9C121.5,189.2 123.0,190.7 124.8,190.7C126.1,190.7 126.9,189.1 127.6,187.9C128.7,186.2 129.4,184.3 130.2,182.4C130.6,181.5 130.9,180.5 131.2,179.6C131.3,181.7 131.3,183.9 131.4,186.1C132.2,186.4 133.1,186.7 134.0,187.0C135.2,188.9 136.2,191.0 137.7,192.6C138.7,193.7 140.0,195.2 141.4,195.0C142.9,194.8 143.4,192.9 144.2,191.7C145.5,189.9 147.1,188.2 147.6,186.1C148.3,183.7 147.7,181.1 147.8,178.6C148.1,179.4 148.5,180.1 148.9,180.9C149.4,180.2 149.9,179.6 150.4,179.0C151.4,181.4 152.1,183.9 153.5,186.1C154.5,187.6 155.5,189.8 157.3,189.8C159.0,189.8 159.9,187.5 161.0,186.1C162.1,184.7 163.0,183.0 163.8,181.4C164.2,180.5 164.4,179.6 164.7,178.6C165.2,179.8 165.2,181.1 166.0,182.0C166.4,182.4 167.0,181.6 167.5,181.4C168.4,182.9 169.1,184.5 170.3,185.7C171.3,186.8 172.5,188.5 174.0,188.3C175.4,188.2 176.1,186.3 176.8,185.2C177.9,183.4 179.1,181.6 179.6,179.6C180.4,176.7 180.5,173.7 180.9,170.8C181.3,171.7 181.7,172.5 182.0,173.4C182.5,172.8 182.9,172.2 183.4,171.6C184.6,174.2 185.5,177.1 187.1,179.6C188.0,181.0 189.1,182.8 190.8,183.3C191.9,183.6 192.8,182.2 193.6,181.4C194.6,180.5 195.2,179.3 196.0,178.3C196.4,177.8 196.8,177.3 197.1,176.8C197.5,176.8 198.0,177.3 198.3,177.0C199.3,175.5 199.7,173.7 200.5,172.1C201.3,173.7 201.8,175.4 202.9,176.8C203.9,178.0 205.1,179.6 206.6,179.6C208.0,179.6 208.9,177.9 209.7,176.8C210.7,175.4 211.4,173.7 212.1,172.1C212.6,170.9 212.9,169.6 213.2,168.4C213.3,173.0 213.3,177.7 213.4,182.4C213.9,181.9 214.5,181.5 214.9,180.9C215.5,179.9 215.9,178.8 216.4,177.7C217.5,179.4 218.2,181.3 219.6,182.7C220.6,183.8 221.8,185.3 223.3,185.2C224.8,185.0 225.6,183.2 226.5,182.0C227.5,180.4 228.0,178.5 228.9,176.8C229.1,176.4 229.4,176.1 229.6,175.8C229.7,183.9 229.7,192.0 229.8,200.1C230.7,198.2 231.7,196.3 232.6,194.5C233.2,195.1 233.8,195.8 234.5,196.3C235.6,197.2 236.8,199.1 238.2,198.8C240.0,198.3 240.9,196.1 241.9,194.5C243.1,192.4 243.8,190.1 244.7,187.9C245.2,186.7 245.6,185.5 246.0,184.2C246.1,190.7 246.1,197.3 246.1,203.8C247.0,203.2 247.9,202.5 248.8,201.9C249.9,203.8 250.7,205.9 252.2,207.5C253.2,208.6 254.4,210.1 255.9,209.9C257.6,209.7 258.6,207.9 259.6,206.6C260.8,205.2 261.5,203.5 262.4,201.9C262.8,201.3 263.0,200.7 263.4,200.1C263.7,200.7 264.0,201.3 264.3,201.9C264.7,201.0 265.2,200.1 265.6,199.1C266.7,201.3 267.4,203.8 268.9,205.6C270.1,207.1 271.7,208.8 273.6,208.8C275.0,208.8 275.6,206.8 276.4,205.6C277.1,204.5 277.3,203.1 277.9,201.9C278.1,201.5 278.4,201.1 278.6,200.6C279.1,203.2 279.6,205.8 280.1,208.4C280.7,207.8 281.4,207.2 282.0,206.6C283.2,207.9 284.4,209.4 285.7,210.7C286.2,211.1 286.8,211.9 287.5,211.7C288.8,211.2 289.8,210.0 290.8,208.9C292.0,207.5 293.0,205.8 294.0,204.2C294.5,203.3 294.8,202.4 295.3,201.4C295.8,203.3 296.3,205.2 296.8,207.0C297.2,206.1 297.6,205.2 298.1,204.2C299.5,206.4 300.6,208.9 302.4,210.7C303.9,212.4 305.7,214.2 307.9,214.5C309.1,214.6 309.3,212.6 309.8,211.7C310.5,210.5 311.0,209.2 311.6,207.9C311.7,210.4 311.7,212.9 311.8,215.4C312.2,213.8 312.5,212.3 313.0,210.7C313.4,209.5 314.0,208.3 314.5,207.0C315.4,208.4 316.1,210.1 317.3,211.3C318.3,212.3 319.5,213.7 321.0,213.5C322.4,213.4 323.4,211.8 324.3,210.7C325.3,209.6 325.9,208.3 326.6,207.0C327.2,205.8 327.6,204.5 328.0,203.3C328.1,211.4 328.1,219.4 328.1,227.5C329.2,226.6 330.2,225.6 331.2,224.7C332.0,225.5 332.6,226.3 333.5,227.0C334.2,227.5 335.1,228.4 335.9,228.1C337.5,227.5 338.6,226.0 339.6,224.7C340.8,223.3 341.7,221.7 342.4,220.1C343.2,218.3 343.4,216.3 343.9,214.5C344.3,218.5 344.8,222.5 345.2,226.6C346.0,226.0 346.7,225.3 347.4,224.7C348.6,226.9 349.4,229.2 350.8,231.2C351.8,232.7 352.8,235.0 354.5,235.0C356.3,235.0 357.2,232.6 358.3,231.2C359.7,229.5 360.8,227.5 362.0,225.6C362.6,224.6 363.2,223.5 363.8,222.5C364.8,223.8 365.6,225.3 366.6,226.6C367.7,227.9 368.5,230.1 370.2,230.3C371.8,230.5 372.9,228.6 374.0,227.5C375.0,226.4 375.6,225.0 376.4,223.8C376.7,223.4 377.0,222.9 377.2,222.5C377.3,226.0 377.3,229.6 377.4,233.1C378.4,232.3 379.4,231.5 380.5,230.7C381.4,231.8 382.2,233.0 383.3,234.0C384.1,234.8 385.0,236.2 386.1,235.9C387.8,235.4 388.8,233.6 389.8,232.2C391.0,230.5 391.8,228.5 392.6,226.6C393.1,225.4 393.5,224.1 393.9,222.9C394.4,224.7 394.9,226.6 395.4,228.4C396.0,228.1 396.6,227.8 397.3,227.5C398.5,229.7 399.5,232.0 401.0,234.0C402.0,235.5 403.1,237.2 404.7,237.8C405.7,238.1 406.6,236.9 407.5,236.3C408.4,235.6 409.2,234.8 410.0,234.0C410.1,229.4 410.1,224.7 410.1,220.1C410.8,220.2 411.7,221.2 412.2,220.6C413.1,219.5 412.8,217.8 413.1,216.3C413.7,218.2 413.8,220.3 415.0,221.9C416.1,223.6 418.0,224.6 419.6,225.6C421.1,226.6 422.7,227.3 424.3,228.1C424.7,226.0 425.2,224.0 425.6,221.9C426.1,225.3 426.6,228.8 427.1,232.2C427.8,231.4 428.6,230.7 429.3,229.9C430.1,230.8 430.8,231.8 431.7,232.5C432.3,232.9 433.0,233.4 433.6,233.1C435.1,232.2 436.2,230.7 437.3,229.4C438.7,227.6 440.1,225.8 441.1,223.8C441.8,222.3 441.9,220.7 442.4,219.1C443.0,222.5 443.6,226.0 444.2,229.4C444.5,228.9 444.9,228.5 445.2,228.1C446.2,230.1 447.0,232.3 448.3,234.3C449.6,236.2 450.7,238.7 452.8,239.7C454.0,240.2 455.1,238.7 456.2,238.0C457.0,237.5 457.5,236.6 458.2,235.9C458.7,231.4 459.2,227.0 459.7,222.5C460.2,222.5 460.8,222.8 461.1,222.5C461.8,221.8 462.0,220.7 462.4,219.8C463.5,221.7 464.4,223.8 465.9,225.6C467.4,227.3 468.9,229.5 471.1,230.1C472.2,230.4 472.9,228.6 473.6,227.6C474.3,226.7 474.7,225.6 475.2,224.5C475.8,225.2 476.1,226.2 476.9,226.6C477.4,226.8 477.8,226.2 478.3,226.0C479.4,227.2 480.2,228.7 481.4,229.7C482.3,230.5 483.4,231.6 484.5,231.4C486.0,231.1 487.1,229.8 488.1,228.7C489.2,227.5 490.3,226.1 490.8,224.5C491.8,220.7 491.9,216.7 492.4,212.7C492.9,213.9 493.4,215.1 493.9,216.3C494.3,215.6 494.8,214.9 495.3,214.2C496.6,217.3 497.4,220.6 499.0,223.5C500.1,225.3 501.3,227.2 503.2,228.1C504.1,228.5 505.1,227.4 505.9,226.8C506.8,226.2 507.6,225.3 508.4,224.5C508.5,220.7 508.5,216.9 508.5,213.1C509.2,213.5 509.8,214.4 510.4,214.2C511.2,213.9 511.3,212.8 511.7,212.1C512.6,214.0 513.3,216.0 514.6,217.7C515.4,218.8 516.3,220.6 517.7,220.4C519.3,220.2 520.3,218.3 521.2,216.9C522.4,215.1 523.2,213.1 523.9,211.1C524.4,209.7 524.6,208.3 524.9,206.9C525.5,208.0 526.0,209.0 526.6,210.0C527.1,209.6 527.6,209.1 528.0,208.6C529.1,210.8 529.8,213.2 531.2,215.2C532.2,216.7 533.5,218.7 535.3,218.9C536.7,219.1 537.4,217.2 538.4,216.3C539.4,215.3 540.3,214.2 541.2,213.1C541.3,208.3 541.3,203.5 541.3,198.6" fill="none" stroke="#ff00ff" stroke-width="1.5" stroke-linejoin="round"/>
<path d="M46.2,272.3H544.9V163.3H46.2" fill="none" stroke="#000" stroke-width="1.0" stroke-linejoin="miter"/>
<line x1="46.2" y1="162.8" x2="46.2" y2="272.8" stroke="#000" stroke-width="1.35"/>
<line x1="49.3" y1="272.3" x2="49.3" y2="276.6" stroke="#000" stroke-width="0.95"/>
<line x1="49.3" y1="163.3" x2="49.3" y2="159.0" stroke="#000" stroke-width="0.95"/>
<line x1="65.7" y1="272.3" x2="65.7" y2="274.6" stroke="#000" stroke-width="0.95"/>
<line x1="65.7" y1="163.3" x2="65.7" y2="161.0" stroke="#000" stroke-width="0.95"/>
<line x1="82.1" y1="272.3" x2="82.1" y2="276.6" stroke="#000" stroke-width="0.95"/>
<line x1="82.1" y1="163.3" x2="82.1" y2="159.0" stroke="#000" stroke-width="0.95"/>
<line x1="98.5" y1="272.3" x2="98.5" y2="274.6" stroke="#000" stroke-width="0.95"/>
<line x1="98.5" y1="163.3" x2="98.5" y2="161.0" stroke="#000" stroke-width="0.95"/>
<line x1="114.9" y1="272.3" x2="114.9" y2="276.6" stroke="#000" stroke-width="0.95"/>
<line x1="114.9" y1="163.3" x2="114.9" y2="159.0" stroke="#000" stroke-width="0.95"/>
<line x1="131.3" y1="272.3" x2="131.3" y2="274.6" stroke="#000" stroke-width="0.95"/>
<line x1="131.3" y1="163.3" x2="131.3" y2="161.0" stroke="#000" stroke-width="0.95"/>
<line x1="147.7" y1="272.3" x2="147.7" y2="276.6" stroke="#000" stroke-width="0.95"/>
<line x1="147.7" y1="163.3" x2="147.7" y2="159.0" stroke="#000" stroke-width="0.95"/>
<line x1="164.1" y1="272.3" x2="164.1" y2="274.6" stroke="#000" stroke-width="0.95"/>
<line x1="164.1" y1="163.3" x2="164.1" y2="161.0" stroke="#000" stroke-width="0.95"/>
<line x1="180.5" y1="272.3" x2="180.5" y2="276.6" stroke="#000" stroke-width="0.95"/>
<line x1="180.5" y1="163.3" x2="180.5" y2="159.0" stroke="#000" stroke-width="0.95"/>
<line x1="196.9" y1="272.3" x2="196.9" y2="274.6" stroke="#000" stroke-width="0.95"/>
<line x1="196.9" y1="163.3" x2="196.9" y2="161.0" stroke="#000" stroke-width="0.95"/>
<line x1="213.3" y1="272.3" x2="213.3" y2="276.6" stroke="#000" stroke-width="0.95"/>
<line x1="213.3" y1="163.3" x2="213.3" y2="159.0" stroke="#000" stroke-width="0.95"/>
<line x1="229.7" y1="272.3" x2="229.7" y2="274.6" stroke="#000" stroke-width="0.95"/>
<line x1="229.7" y1="163.3" x2="229.7" y2="161.0" stroke="#000" stroke-width="0.95"/>
<line x1="246.1" y1="272.3" x2="246.1" y2="276.6" stroke="#000" stroke-width="0.95"/>
<line x1="246.1" y1="163.3" x2="246.1" y2="159.0" stroke="#000" stroke-width="0.95"/>
<line x1="262.5" y1="272.3" x2="262.5" y2="274.6" stroke="#000" stroke-width="0.95"/>
<line x1="262.5" y1="163.3" x2="262.5" y2="161.0" stroke="#000" stroke-width="0.95"/>
<line x1="278.9" y1="272.3" x2="278.9" y2="276.6" stroke="#000" stroke-width="0.95"/>
<line x1="278.9" y1="163.3" x2="278.9" y2="159.0" stroke="#000" stroke-width="0.95"/>
<line x1="295.3" y1="272.3" x2="295.3" y2="274.6" stroke="#000" stroke-width="0.95"/>
<line x1="295.3" y1="163.3" x2="295.3" y2="161.0" stroke="#000" stroke-width="0.95"/>
<line x1="311.7" y1="272.3" x2="311.7" y2="276.6" stroke="#000" stroke-width="0.95"/>
<line x1="311.7" y1="163.3" x2="311.7" y2="159.0" stroke="#000" stroke-width="0.95"/>
<line x1="328.1" y1="272.3" x2="328.1" y2="274.6" stroke="#000" stroke-width="0.95"/>
<line x1="328.1" y1="163.3" x2="328.1" y2="161.0" stroke="#000" stroke-width="0.95"/>
<line x1="344.5" y1="272.3" x2="344.5" y2="276.6" stroke="#000" stroke-width="0.95"/>
<line x1="344.5" y1="163.3" x2="344.5" y2="159.0" stroke="#000" stroke-width="0.95"/>
<line x1="360.9" y1="272.3" x2="360.9" y2="274.6" stroke="#000" stroke-width="0.95"/>
<line x1="360.9" y1="163.3" x2="360.9" y2="161.0" stroke="#000" stroke-width="0.95"/>
<line x1="377.3" y1="272.3" x2="377.3" y2="276.6" stroke="#000" stroke-width="0.95"/>
<line x1="377.3" y1="163.3" x2="377.3" y2="159.0" stroke="#000" stroke-width="0.95"/>
<line x1="393.7" y1="272.3" x2="393.7" y2="274.6" stroke="#000" stroke-width="0.95"/>
<line x1="393.7" y1="163.3" x2="393.7" y2="161.0" stroke="#000" stroke-width="0.95"/>
<line x1="410.1" y1="272.3" x2="410.1" y2="276.6" stroke="#000" stroke-width="0.95"/>
<line x1="410.1" y1="163.3" x2="410.1" y2="159.0" stroke="#000" stroke-width="0.95"/>
<line x1="426.5" y1="272.3" x2="426.5" y2="274.6" stroke="#000" stroke-width="0.95"/>
<line x1="426.5" y1="163.3" x2="426.5" y2="161.0" stroke="#000" stroke-width="0.95"/>
<line x1="442.9" y1="272.3" x2="442.9" y2="276.6" stroke="#000" stroke-width="0.95"/>
<line x1="442.9" y1="163.3" x2="442.9" y2="159.0" stroke="#000" stroke-width="0.95"/>
<line x1="459.3" y1="272.3" x2="459.3" y2="274.6" stroke="#000" stroke-width="0.95"/>
<line x1="459.3" y1="163.3" x2="459.3" y2="161.0" stroke="#000" stroke-width="0.95"/>
<line x1="475.7" y1="272.3" x2="475.7" y2="276.6" stroke="#000" stroke-width="0.95"/>
<line x1="475.7" y1="163.3" x2="475.7" y2="159.0" stroke="#000" stroke-width="0.95"/>
<line x1="492.1" y1="272.3" x2="492.1" y2="274.6" stroke="#000" stroke-width="0.95"/>
<line x1="492.1" y1="163.3" x2="492.1" y2="161.0" stroke="#000" stroke-width="0.95"/>
<line x1="508.5" y1="272.3" x2="508.5" y2="276.6" stroke="#000" stroke-width="0.95"/>
<line x1="508.5" y1="163.3" x2="508.5" y2="159.0" stroke="#000" stroke-width="0.95"/>
<line x1="524.9" y1="272.3" x2="524.9" y2="274.6" stroke="#000" stroke-width="0.95"/>
<line x1="524.9" y1="163.3" x2="524.9" y2="161.0" stroke="#000" stroke-width="0.95"/>
<line x1="541.3" y1="272.3" x2="541.3" y2="276.6" stroke="#000" stroke-width="0.95"/>
<line x1="541.3" y1="163.3" x2="541.3" y2="159.0" stroke="#000" stroke-width="0.95"/>
<line x1="46.2" y1="272.3" x2="41.6" y2="272.3" stroke="#000" stroke-width="0.95"/>
<line x1="46.2" y1="248.1" x2="41.6" y2="248.1" stroke="#000" stroke-width="0.95"/>
<line x1="46.2" y1="223.9" x2="41.6" y2="223.9" stroke="#000" stroke-width="0.95"/>
<line x1="46.2" y1="199.7" x2="41.6" y2="199.7" stroke="#000" stroke-width="0.95"/>
<line x1="46.2" y1="175.4" x2="41.6" y2="175.4" stroke="#000" stroke-width="0.95"/>
<line x1="46.2" y1="260.2" x2="43.800000000000004" y2="260.2" stroke="#000" stroke-width="0.95"/>
<line x1="46.2" y1="236.0" x2="43.800000000000004" y2="236.0" stroke="#000" stroke-width="0.95"/>
<line x1="46.2" y1="211.8" x2="43.800000000000004" y2="211.8" stroke="#000" stroke-width="0.95"/>
<line x1="46.2" y1="187.5" x2="43.800000000000004" y2="187.5" stroke="#000" stroke-width="0.95"/>
<line x1="46.2" y1="163.3" x2="43.800000000000004" y2="163.3" stroke="#000" stroke-width="0.95"/>
<text x="39.2" y="276.1" text-anchor="end" class="t">-10</text>
<text x="39.2" y="251.9" text-anchor="end" class="t">0</text>
<text x="39.2" y="227.7" text-anchor="end" class="t">10</text>
<text x="39.2" y="203.5" text-anchor="end" class="t">20</text>
<text x="39.2" y="179.2" text-anchor="end" class="t">30</text>
<text x="49.3" y="287.8" text-anchor="middle" class="t">0</text>
<text x="82.1" y="287.8" text-anchor="middle" class="t">2</text>
<text x="114.9" y="287.8" text-anchor="middle" class="t">4</text>
<text x="147.7" y="287.8" text-anchor="middle" class="t">6</text>
<text x="180.5" y="287.8" text-anchor="middle" class="t">8</text>
<text x="213.3" y="287.8" text-anchor="middle" class="t">10</text>
<text x="246.1" y="287.8" text-anchor="middle" class="t">12</text>
<text x="278.9" y="287.8" text-anchor="middle" class="t">14</text>
<text x="311.7" y="287.8" text-anchor="middle" class="t">16</text>
<text x="344.5" y="287.8" text-anchor="middle" class="t">18</text>
<text x="377.3" y="287.8" text-anchor="middle" class="t">20</text>
<text x="410.1" y="287.8" text-anchor="middle" class="t">22</text>
<text x="442.9" y="287.8" text-anchor="middle" class="t">24</text>
<text x="475.7" y="287.8" text-anchor="middle" class="t">26</text>
<text x="508.5" y="287.8" text-anchor="middle" class="t">28</text>
<text x="541.3" y="287.8" text-anchor="middle" class="t">30</text>
<text x="295.6" y="307.8" text-anchor="middle" class="xl">Mesh Cycle</text>
<text class="pl" x="6.2" y="176.4">(b)</text>
<text class="yl" transform="translate(17.4,225.2) rotate(-90)" text-anchor="middle">STE(μm)</text>
</g>
<g id="panel-c">
<polyline points="71.0,355.9 71.8,374.1 81.7,374.1 81.7,365.9" fill="none" stroke="#ff0000" stroke-width="1.4" stroke-linejoin="round" />
<polyline points="131.4,344.8 133.1,350.5 134.4,350.5" fill="none" stroke="#ff0000" stroke-width="1.4" stroke-linejoin="round" />
<polyline points="164.1,339.3 164.8,342.8 166.1,342.3" fill="none" stroke="#ff0000" stroke-width="1.4" stroke-linejoin="round" />
<polyline points="187.9,332.8 188.9,344.8 196.6,344.8 196.6,338.6" fill="none" stroke="#ff0000" stroke-width="1.4" stroke-linejoin="round" />
<polyline points="229.6,371.6 243.1,371.6 243.6,351.0" fill="none" stroke="#ff0000" stroke-width="1.4" stroke-linejoin="round" />
<polyline points="279.0,382.0 281.0,382.8 282.7,380.3" fill="none" stroke="#ff0000" stroke-width="1.4" stroke-linejoin="round" />
<polyline points="311.8,390.7 312.3,389.5" fill="none" stroke="#ff0000" stroke-width="1.4" stroke-linejoin="round" />
<polyline points="328.4,410.6 335.6,414.3 342.3,414.3 342.6,393.2" fill="none" stroke="#ff0000" stroke-width="1.4" stroke-linejoin="round" />
<polyline points="377.7,415.5 379.7,418.8 381.2,413.8" fill="none" stroke="#ff0000" stroke-width="1.4" stroke-linejoin="round" />
<polyline points="393.9,403.9 394.4,408.3 395.9,408.6" fill="none" stroke="#ff0000" stroke-width="1.4" stroke-linejoin="round" />
<polyline points="426.4,416.8 432.4,421.0 440.6,421.0 441.1,399.9" fill="none" stroke="#ff0000" stroke-width="1.4" stroke-linejoin="round" />
<polyline points="443.5,409.3 444.2,411.3 446.0,410.8" fill="none" stroke="#ff0000" stroke-width="1.4" stroke-linejoin="round" />
<polyline points="475.5,405.6 476.0,411.8 478.5,407.3" fill="none" stroke="#ff0000" stroke-width="1.4" stroke-linejoin="round" />
<polyline points="497.6,393.2 498.6,411.8 508.3,411.8 508.3,404.9" fill="none" stroke="#ff0000" stroke-width="1.4" stroke-linejoin="round" />
<polyline points="49.4,374.1 52.4,375.1" fill="none" stroke="#00ff00" stroke-width="1.4" stroke-linejoin="round" />
<polyline points="71.8,355.2 77.2,361.4 81.5,367.1 81.7,374.1" fill="none" stroke="#00ff00" stroke-width="1.4" stroke-linejoin="round" />
<polyline points="229.6,371.6 237.6,371.6 238.6,357.2" fill="none" stroke="#00ff00" stroke-width="1.4" stroke-linejoin="round" />
<polyline points="328.4,410.6 335.6,413.8 336.8,413.8 337.3,399.4" fill="none" stroke="#00ff00" stroke-width="1.4" stroke-linejoin="round" />
<polyline points="426.4,416.8 431.4,420.5 434.4,420.5 434.9,406.8" fill="none" stroke="#00ff00" stroke-width="1.4" stroke-linejoin="round" />
<polyline points="475.5,405.6 477.0,409.3 478.5,407.3" fill="none" stroke="#00ff00" stroke-width="1.4" stroke-linejoin="round" />
<polyline points="505.1,402.4 508.0,406.3" fill="none" stroke="#00ff00" stroke-width="1.4" stroke-linejoin="round" />
<polyline points="49.4,366.6 52.4,375.1 65.3,378.3 65.8,348.0 73.8,357.7 81.7,365.9 81.7,349.2 83.5,351.0 98.4,346.8 98.9,342.3 102.1,342.3 115.2,350.5 130.6,341.8 133.1,350.5 147.3,351.0 147.4,351.0 147.9,339.3 163.6,346.0 164.1,339.3 166.1,342.3 179.7,338.6 180.5,326.9 196.6,338.6 197.1,334.3 200.8,329.9 212.8,326.1 213.3,348.5 216.5,338.6 228.9,334.8 229.6,371.6 233.1,363.4 239.3,355.9 246.0,348.5 246.2,372.1 249.9,373.3 262.3,372.1 266.1,369.6 278.5,371.6 279.0,382.0 294.6,373.3 295.6,376.6 310.8,380.8 311.8,390.7 314.5,379.5 327.7,376.6 328.4,410.6 336.8,399.4 343.8,391.5 344.5,404.4 360.4,410.6 360.9,405.6 364.1,403.1 377.2,403.1 377.7,415.5 392.9,407.3 393.9,403.1 395.1,408.1 410.0,415.5 410.8,398.2 413.3,394.4 425.7,401.4 426.4,416.8 442.3,398.2 443.5,409.3 459.1,418.0 459.9,400.6 462.8,399.4 475.5,405.6 478.5,407.3 491.7,400.6 492.1,387.0 507.8,404.9 508.8,387.0 511.3,388.2 524.4,385.7 525.2,379.5 540.6,386.5 541.3,366.6" fill="none" stroke="#ff00ff" stroke-width="1.35" stroke-linejoin="round" />
<path d="M46.2,425.7H544.9V317.3H46.2" fill="none" stroke="#000" stroke-width="1.0" stroke-linejoin="miter"/>
<line x1="46.2" y1="316.8" x2="46.2" y2="426.2" stroke="#000" stroke-width="1.35"/>
<line x1="49.3" y1="425.7" x2="49.3" y2="430.0" stroke="#000" stroke-width="0.95"/>
<line x1="49.3" y1="317.3" x2="49.3" y2="313.0" stroke="#000" stroke-width="0.95"/>
<line x1="65.7" y1="425.7" x2="65.7" y2="428.0" stroke="#000" stroke-width="0.95"/>
<line x1="65.7" y1="317.3" x2="65.7" y2="315.0" stroke="#000" stroke-width="0.95"/>
<line x1="82.1" y1="425.7" x2="82.1" y2="430.0" stroke="#000" stroke-width="0.95"/>
<line x1="82.1" y1="317.3" x2="82.1" y2="313.0" stroke="#000" stroke-width="0.95"/>
<line x1="98.5" y1="425.7" x2="98.5" y2="428.0" stroke="#000" stroke-width="0.95"/>
<line x1="98.5" y1="317.3" x2="98.5" y2="315.0" stroke="#000" stroke-width="0.95"/>
<line x1="114.9" y1="425.7" x2="114.9" y2="430.0" stroke="#000" stroke-width="0.95"/>
<line x1="114.9" y1="317.3" x2="114.9" y2="313.0" stroke="#000" stroke-width="0.95"/>
<line x1="131.3" y1="425.7" x2="131.3" y2="428.0" stroke="#000" stroke-width="0.95"/>
<line x1="131.3" y1="317.3" x2="131.3" y2="315.0" stroke="#000" stroke-width="0.95"/>
<line x1="147.7" y1="425.7" x2="147.7" y2="430.0" stroke="#000" stroke-width="0.95"/>
<line x1="147.7" y1="317.3" x2="147.7" y2="313.0" stroke="#000" stroke-width="0.95"/>
<line x1="164.1" y1="425.7" x2="164.1" y2="428.0" stroke="#000" stroke-width="0.95"/>
<line x1="164.1" y1="317.3" x2="164.1" y2="315.0" stroke="#000" stroke-width="0.95"/>
<line x1="180.5" y1="425.7" x2="180.5" y2="430.0" stroke="#000" stroke-width="0.95"/>
<line x1="180.5" y1="317.3" x2="180.5" y2="313.0" stroke="#000" stroke-width="0.95"/>
<line x1="196.9" y1="425.7" x2="196.9" y2="428.0" stroke="#000" stroke-width="0.95"/>
<line x1="196.9" y1="317.3" x2="196.9" y2="315.0" stroke="#000" stroke-width="0.95"/>
<line x1="213.3" y1="425.7" x2="213.3" y2="430.0" stroke="#000" stroke-width="0.95"/>
<line x1="213.3" y1="317.3" x2="213.3" y2="313.0" stroke="#000" stroke-width="0.95"/>
<line x1="229.7" y1="425.7" x2="229.7" y2="428.0" stroke="#000" stroke-width="0.95"/>
<line x1="229.7" y1="317.3" x2="229.7" y2="315.0" stroke="#000" stroke-width="0.95"/>
<line x1="246.1" y1="425.7" x2="246.1" y2="430.0" stroke="#000" stroke-width="0.95"/>
<line x1="246.1" y1="317.3" x2="246.1" y2="313.0" stroke="#000" stroke-width="0.95"/>
<line x1="262.5" y1="425.7" x2="262.5" y2="428.0" stroke="#000" stroke-width="0.95"/>
<line x1="262.5" y1="317.3" x2="262.5" y2="315.0" stroke="#000" stroke-width="0.95"/>
<line x1="278.9" y1="425.7" x2="278.9" y2="430.0" stroke="#000" stroke-width="0.95"/>
<line x1="278.9" y1="317.3" x2="278.9" y2="313.0" stroke="#000" stroke-width="0.95"/>
<line x1="295.3" y1="425.7" x2="295.3" y2="428.0" stroke="#000" stroke-width="0.95"/>
<line x1="295.3" y1="317.3" x2="295.3" y2="315.0" stroke="#000" stroke-width="0.95"/>
<line x1="311.7" y1="425.7" x2="311.7" y2="430.0" stroke="#000" stroke-width="0.95"/>
<line x1="311.7" y1="317.3" x2="311.7" y2="313.0" stroke="#000" stroke-width="0.95"/>
<line x1="328.1" y1="425.7" x2="328.1" y2="428.0" stroke="#000" stroke-width="0.95"/>
<line x1="328.1" y1="317.3" x2="328.1" y2="315.0" stroke="#000" stroke-width="0.95"/>
<line x1="344.5" y1="425.7" x2="344.5" y2="430.0" stroke="#000" stroke-width="0.95"/>
<line x1="344.5" y1="317.3" x2="344.5" y2="313.0" stroke="#000" stroke-width="0.95"/>
<line x1="360.9" y1="425.7" x2="360.9" y2="428.0" stroke="#000" stroke-width="0.95"/>
<line x1="360.9" y1="317.3" x2="360.9" y2="315.0" stroke="#000" stroke-width="0.95"/>
<line x1="377.3" y1="425.7" x2="377.3" y2="430.0" stroke="#000" stroke-width="0.95"/>
<line x1="377.3" y1="317.3" x2="377.3" y2="313.0" stroke="#000" stroke-width="0.95"/>
<line x1="393.7" y1="425.7" x2="393.7" y2="428.0" stroke="#000" stroke-width="0.95"/>
<line x1="393.7" y1="317.3" x2="393.7" y2="315.0" stroke="#000" stroke-width="0.95"/>
<line x1="410.1" y1="425.7" x2="410.1" y2="430.0" stroke="#000" stroke-width="0.95"/>
<line x1="410.1" y1="317.3" x2="410.1" y2="313.0" stroke="#000" stroke-width="0.95"/>
<line x1="426.5" y1="425.7" x2="426.5" y2="428.0" stroke="#000" stroke-width="0.95"/>
<line x1="426.5" y1="317.3" x2="426.5" y2="315.0" stroke="#000" stroke-width="0.95"/>
<line x1="442.9" y1="425.7" x2="442.9" y2="430.0" stroke="#000" stroke-width="0.95"/>
<line x1="442.9" y1="317.3" x2="442.9" y2="313.0" stroke="#000" stroke-width="0.95"/>
<line x1="459.3" y1="425.7" x2="459.3" y2="428.0" stroke="#000" stroke-width="0.95"/>
<line x1="459.3" y1="317.3" x2="459.3" y2="315.0" stroke="#000" stroke-width="0.95"/>
<line x1="475.7" y1="425.7" x2="475.7" y2="430.0" stroke="#000" stroke-width="0.95"/>
<line x1="475.7" y1="317.3" x2="475.7" y2="313.0" stroke="#000" stroke-width="0.95"/>
<line x1="492.1" y1="425.7" x2="492.1" y2="428.0" stroke="#000" stroke-width="0.95"/>
<line x1="492.1" y1="317.3" x2="492.1" y2="315.0" stroke="#000" stroke-width="0.95"/>
<line x1="508.5" y1="425.7" x2="508.5" y2="430.0" stroke="#000" stroke-width="0.95"/>
<line x1="508.5" y1="317.3" x2="508.5" y2="313.0" stroke="#000" stroke-width="0.95"/>
<line x1="524.9" y1="425.7" x2="524.9" y2="428.0" stroke="#000" stroke-width="0.95"/>
<line x1="524.9" y1="317.3" x2="524.9" y2="315.0" stroke="#000" stroke-width="0.95"/>
<line x1="541.3" y1="425.7" x2="541.3" y2="430.0" stroke="#000" stroke-width="0.95"/>
<line x1="541.3" y1="317.3" x2="541.3" y2="313.0" stroke="#000" stroke-width="0.95"/>
<line x1="46.2" y1="422.5" x2="41.6" y2="422.5" stroke="#000" stroke-width="0.95"/>
<line x1="46.2" y1="401.4" x2="41.6" y2="401.4" stroke="#000" stroke-width="0.95"/>
<line x1="46.2" y1="380.4" x2="41.6" y2="380.4" stroke="#000" stroke-width="0.95"/>
<line x1="46.2" y1="359.4" x2="41.6" y2="359.4" stroke="#000" stroke-width="0.95"/>
<line x1="46.2" y1="338.3" x2="41.6" y2="338.3" stroke="#000" stroke-width="0.95"/>
<line x1="46.2" y1="317.3" x2="41.6" y2="317.3" stroke="#000" stroke-width="0.95"/>
<line x1="46.2" y1="412.0" x2="43.800000000000004" y2="412.0" stroke="#000" stroke-width="0.95"/>
<line x1="46.2" y1="390.9" x2="43.800000000000004" y2="390.9" stroke="#000" stroke-width="0.95"/>
<line x1="46.2" y1="369.9" x2="43.800000000000004" y2="369.9" stroke="#000" stroke-width="0.95"/>
<line x1="46.2" y1="348.8" x2="43.800000000000004" y2="348.8" stroke="#000" stroke-width="0.95"/>
<line x1="46.2" y1="327.8" x2="43.800000000000004" y2="327.8" stroke="#000" stroke-width="0.95"/>
<text x="39.2" y="426.3" text-anchor="end" class="t">-12</text>
<text x="39.2" y="405.2" text-anchor="end" class="t">-6</text>
<text x="39.2" y="384.2" text-anchor="end" class="t">0</text>
<text x="39.2" y="363.2" text-anchor="end" class="t">6</text>
<text x="39.2" y="342.1" text-anchor="end" class="t">12</text>
<text x="39.2" y="321.1" text-anchor="end" class="t">18</text>
<text x="49.3" y="442.0" text-anchor="middle" class="t">0</text>
<text x="82.1" y="442.0" text-anchor="middle" class="t">2</text>
<text x="114.9" y="442.0" text-anchor="middle" class="t">4</text>
<text x="147.7" y="442.0" text-anchor="middle" class="t">6</text>
<text x="180.5" y="442.0" text-anchor="middle" class="t">8</text>
<text x="213.3" y="442.0" text-anchor="middle" class="t">10</text>
<text x="246.1" y="442.0" text-anchor="middle" class="t">12</text>
<text x="278.9" y="442.0" text-anchor="middle" class="t">14</text>
<text x="311.7" y="442.0" text-anchor="middle" class="t">16</text>
<text x="344.5" y="442.0" text-anchor="middle" class="t">18</text>
<text x="377.3" y="442.0" text-anchor="middle" class="t">20</text>
<text x="410.1" y="442.0" text-anchor="middle" class="t">22</text>
<text x="442.9" y="442.0" text-anchor="middle" class="t">24</text>
<text x="475.7" y="442.0" text-anchor="middle" class="t">26</text>
<text x="508.5" y="442.0" text-anchor="middle" class="t">28</text>
<text x="541.3" y="442.0" text-anchor="middle" class="t">30</text>
<text x="295.6" y="461.4" text-anchor="middle" class="xl">Mesh Cycle</text>
<text class="pl" x="6.8" y="326.2">(c)</text>
<text class="yl" transform="translate(14.5,379.2) rotate(-90)" text-anchor="middle">CMS(μm)</text>
</g>
<g id="legend">
<line x1="151" y1="475.5" x2="177.2" y2="475.5" stroke="#ff0000" stroke-width="1.5"/>
<text class="lg" x="180.6" y="479.3">200N·m</text>
<line x1="222.6" y1="475.5" x2="248.2" y2="475.5" stroke="#00ff00" stroke-width="1.5"/>
<text class="lg" x="252" y="479.3">350N·m</text>
<line x1="293.2" y1="475.5" x2="319.8" y2="475.5" stroke="#0000ff" stroke-width="1.5"/>
<text class="lg" x="323.6" y="479.3">600N·m</text>
<line x1="364.9" y1="475.5" x2="391" y2="475.5" stroke="#ff00ff" stroke-width="1.5"/>
<text class="lg" x="394.7" y="479.3">1000N·m</text>
</g>
</svg></body></html>
